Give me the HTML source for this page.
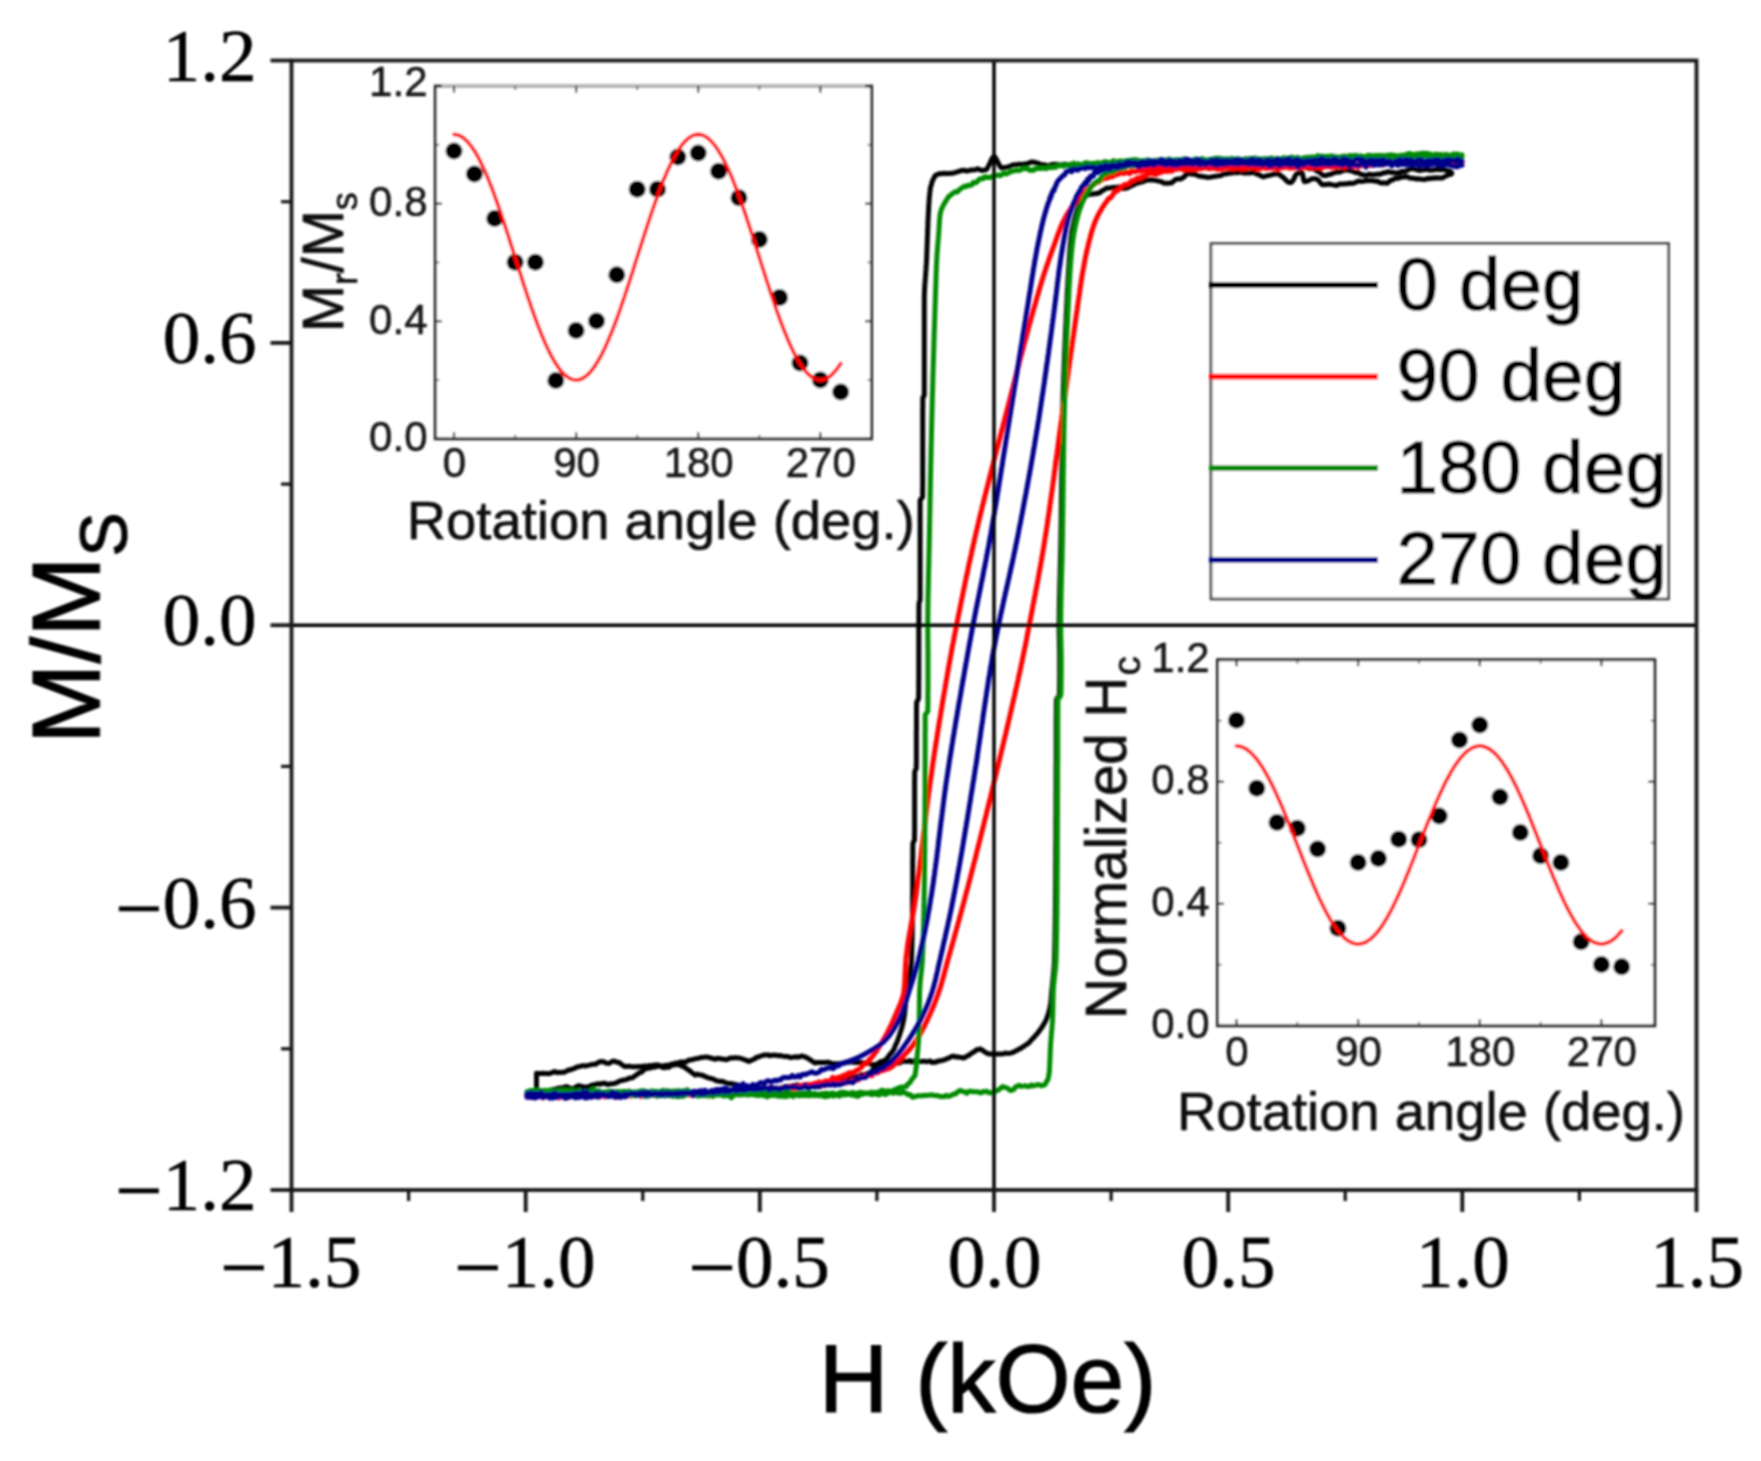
<!DOCTYPE html>
<html lang="en">
<head>
<meta charset="utf-8">
<title>M/Ms vs H (kOe) hysteresis loops</title>
<style>
html,body{margin:0;padding:0;background:#ffffff;}
body{width:1761px;height:1461px;overflow:hidden;}
svg{display:block;}
text{white-space:pre;}
</style>
</head>
<body>
<svg width="1761" height="1461" viewBox="0 0 1761 1461">
<rect x="0" y="0" width="1761" height="1461" fill="#ffffff"/>
<g id="all" filter="url(#soft)">
<g id="curves">
<polyline points="1451.7,173.5 1450.9,171.7 1449.8,171.2 1448.3,171 1446.7,170.5 1444.8,169.7 1442.8,169.4 1440.6,169.8 1438.4,169.4 1436.1,169.4 1433.8,169.9 1431.5,170.1 1429.3,170.2 1427.3,169.5 1425.3,169.6 1423.3,169.9 1421.3,169.9 1419.4,170.5 1417.4,169.9 1415.4,169.3 1413.5,168.6 1411.5,168.8 1409.5,169.1 1407.5,170.3 1405.5,171.1 1403.5,171.6 1401.5,171.4 1399.5,172.5 1397.5,172.8 1395.5,172.9 1393.5,172.5 1391.5,172.5 1389.5,172 1387.5,171.7 1385.5,172.7 1383.6,172.7 1381.6,173.6 1379.6,174.3 1377.7,174.1 1375.7,174.4 1373.7,174.7 1371.7,174.7 1369.7,174.3 1367.7,174.8 1365.7,175.5 1363.7,174.8 1361.7,174.7 1359.7,173.6 1357.8,172.3 1355.9,172.7 1354,172 1352.1,171.1 1350.3,170.6 1348.4,170.2 1346.4,169.7 1344.4,170.4 1342.4,170.8 1340.4,171.8 1338.4,172.2 1336.5,171.8 1334.6,172.7 1332.8,173.3 1330.9,174.2 1329.1,174.4 1327.2,175.2 1325.4,175.6 1323.7,175.5 1322,174.7 1320.3,172.8 1318.5,171.7 1316.8,170.9 1314.9,169.2 1313.1,168.9 1311.1,168.4 1309.2,168.5 1307.2,168 1305.2,167.2 1303.2,166.7 1301.3,166.2 1299.3,166.2 1297.3,165 1295.3,164.4 1293.3,164.9 1291.3,165.4 1289.2,166 1287.2,165.9 1285.2,166.1 1283.2,165.9 1281.2,166.2 1279.2,165.9 1277.2,165.5 1275.2,165.7 1273.2,165.3 1271.2,165.7 1269.2,165.5 1267.2,165.9 1265.2,165.6 1263.2,165.9 1261.2,164.9 1259.2,164.4 1257.2,164.7 1255.2,164.5 1253.2,164.7 1251.2,165.4 1249.2,164.6 1247.2,164.8 1245.2,165.3 1243.2,165.7 1241.2,165.8 1239.2,165.5 1237.2,165.1 1235.2,164.4 1233.2,164.1 1231.1,165 1229.1,165.7 1227.1,165.3 1225.1,165.3 1223.1,164.5 1221.1,164.8 1219.1,164.4 1217.1,164.3 1215.1,164.4 1213.1,165.1 1211.1,165.1 1209.1,165.4 1207.1,165.5 1205.1,164.4 1203.1,165 1201.1,163.9 1199.1,164.4 1197.1,163.9 1195.1,164.6 1193.1,164.7 1191.1,164.4 1189.1,165.6 1187,166 1185,165.7 1183,165.7 1181,165.8 1179,165.4 1177,165.6 1175,164.7 1173,164.8 1171,164.8 1169,165 1167,165 1165,165.8 1163,165.5 1161,165.7 1159,165 1157,164.5 1155,164.5 1153,164.7 1151,165.1 1149,165.1 1147,165 1145,164.6 1143,164.7 1141,165.3 1139,164.5 1136.9,164.3 1134.9,164.7 1132.9,165 1130.9,164.3 1128.9,164.8 1126.9,164.8 1124.9,164.5 1122.9,165.3 1120.9,165 1118.9,165 1116.9,164.6 1114.9,164.8 1112.9,164.4 1110.9,164.6 1108.9,164.3 1106.9,164.5 1104.9,165.6 1102.9,165.5 1100.9,165.8 1098.9,165.5 1096.9,165.2 1094.9,165.1 1092.9,165.6 1090.9,165.4 1088.9,165.6 1086.8,165.7 1084.8,166.1 1082.8,165.9 1080.8,165.7 1078.8,165.2 1076.8,165 1074.8,166 1072.8,166.4 1070.8,166.1 1068.8,165.5 1066.8,164.7 1064.8,164.3 1062.8,164.7 1060.8,164.7 1058.8,165.4 1056.8,164.2 1054.8,164.5 1052.8,164.3 1050.8,164.9 1048.8,165.7 1046.8,165.8 1044.8,164.9 1042.8,164.6 1040.8,164.9 1038.8,163.4 1036.8,162.8 1034.8,162.5 1032.8,162 1030.7,162.1 1028.7,163.2 1026.7,163.6 1024.7,164 1022.7,164.4 1020.7,164.3 1018.7,164.2 1016.7,164.8 1014.7,164.7 1012.7,164.9 1010.6,166.2 1008.6,166.6 1006.6,167.3 1004.7,167.4 1003,168.1 1001.5,168 1000.2,166.5 999,164.5 997.9,162.6 996.8,160.3 995.8,158.3 994.7,156.8 993.7,156.6 992.7,157.5 991.7,159.3 990.7,161.6 989.7,163.8 988.6,165.7 987.6,167.8 986.5,169.5 985.2,169.9 983.6,170.3 981.7,170.4 979.7,169.7 977.6,168.8 975.4,169.8 973.1,169.9 971,170 968.8,170.6 966.9,171 964.9,170.5 962.9,170.3 960.9,170.6 959,171.5 957,171.9 955,172.6 953,173.2 951.1,173.3 949.1,173.6 947.1,173.4 945,173.5 943,173.3 940.9,173.9 939.1,173.6 937.3,174.6 935.6,175.1 934.2,177.4 933.2,179.4 932.3,181.1 931.5,184.1 930.9,186.1 930.4,187.7 930.1,190.1 929.9,192.1 929.7,193.2 929.5,195.8 929.3,197.4 929.2,199.2 929.1,201.2 928.9,203.2 928.8,205.3 928.7,207.3 928.6,209.3 928.5,211.3 928.4,213.4 928.3,215.4 928.2,217.4 928.1,219.4 928,221.4 927.9,223.4 927.9,225.4 927.8,227.4 927.7,229.4 927.6,231.4 927.6,233.4 927.5,235.4 927.4,237.4 927.3,239.4 927.3,241.4 927.2,243.4 927.1,245.4 927.1,247.4 927,249.4 926.9,251.4 926.8,253.4 926.8,255.4 926.7,257.4 926.6,259.4 926.5,261.4 926.4,263.4 926.2,265.4 926.1,267.4 926,269.4 925.8,271.4 925.7,273.4 925.5,275.4 925.4,277.4 925.2,279.4 925.1,281.4 924.9,283.4 924.8,285.4 924.7,287.4 924.6,289.4 924.5,291.4 924.4,293.4 924.4,295.4 924.3,297.4 924.3,299.4 924.3,301.5 924.3,303.5 924.3,305.5 924.3,307.5 924.3,309.5 924.3,311.6 924.3,313.6 924.3,315.6 924.3,317.7 924.3,319.7 924.3,321.8 924.3,323.8 924.3,325.8 924.3,327.9 924.3,329.9 924.3,332 924.3,334.1 924.3,336.1 924.3,338.2 924.3,340.2 924.3,342.3 924.3,344.3 924.3,346.3 924.3,348.4 924.3,350.4 924.3,352.5 924.3,354.5 924.3,356.5 924.3,358.5 924.3,360.6 924.3,362.6 924.3,364.6 924.3,366.6 924.3,368.6 924.3,370.6 924.3,372.5 924.3,374.5 924.3,376.5 924.3,378.4 924.3,380.4 924.3,382.3 924.3,384.2 924.3,386.2 924.3,388.1 924.3,390 924.3,391.9 924.3,393.7 924.2,395.6 923,397.4 922.8,399.2 922.8,401.1 922.8,403 922.8,404.9 922.8,406.9 922.7,408.9 922.7,410.9 922.7,412.9 922.7,414.9 922.7,416.9 922.7,419 922.7,421 922.7,423.1 922.7,425.2 922.7,427.3 922.7,429.4 922.7,431.5 922.7,433.6 922.7,435.8 922.7,437.9 922.7,440 922.7,442.1 922.7,444.3 922.7,446.4 922.7,448.5 922.7,450.7 922.7,452.8 922.7,454.9 922.7,457 922.7,459.1 922.7,461.2 922.7,463.2 922.7,465.3 922.7,467.3 922.7,469.4 922.7,471.4 922.7,473.4 922.7,475.4 922.7,477.4 922.7,479.3 922.7,481.2 922.7,483.1 922.7,485 922.7,486.9 922.6,488.7 922.6,490.5 922.6,492.3 922.6,494 922.6,495.7 922.5,497.4 920.8,498.9 920.1,500.5 920.1,502.2 920.1,503.9 920.1,505.7 920.1,507.4 920.1,509.3 920.1,511.1 920.1,512.9 920.1,514.8 920.1,516.7 920.1,518.6 920.1,520.6 920.1,522.5 920.1,524.5 920.1,526.5 920.1,528.5 920.1,530.5 920.1,532.5 920.1,534.6 920.1,536.6 920.1,538.7 920.1,540.8 920.1,542.9 920.1,545 920.1,547.1 920.1,549.2 920.1,551.3 920.1,553.4 920.1,555.5 920.1,557.6 920.1,559.8 920.1,561.9 920.1,564 920.1,566.1 920.1,568.2 920.1,570.3 920.1,572.4 920.1,574.5 920.1,576.6 920.1,578.7 920.1,580.8 920.1,582.8 920.1,584.9 920.1,586.9 920.1,588.9 920.1,590.9 920.1,592.9 920.1,594.9 920.1,596.9 920.1,598.8 919.9,600.7 919.1,602.6 919,604.5 919,606.5 918.9,608.4 918.9,610.4 918.9,612.4 918.9,614.4 918.9,616.4 918.9,618.4 918.9,620.5 918.8,622.5 918.8,624.5 918.8,626.6 918.8,628.7 918.8,630.7 918.8,632.8 918.8,634.9 918.8,637 918.8,639.1 918.8,641.1 918.8,643.2 918.8,645.3 918.8,647.4 918.8,649.5 918.8,651.6 918.8,653.7 918.8,655.7 918.8,657.8 918.8,659.9 918.8,661.9 918.8,664 918.8,666 918.8,668.1 918.8,670.1 918.8,672.1 918.8,674.1 918.8,676.1 918.8,678.1 918.8,680.1 918.7,682 918.7,684 918.7,685.9 918.7,687.8 918.7,689.7 918.7,691.5 918.7,693.4 918.6,695.2 918.6,697 918.6,698.8 917.6,700.5 916.6,702.2 916.6,704 916.6,705.8 916.5,707.6 916.5,709.5 916.5,711.4 916.5,713.4 916.5,715.3 916.5,717.3 916.5,719.3 916.5,721.3 916.5,723.3 916.5,725.4 916.5,727.4 916.5,729.5 916.4,731.6 916.4,733.7 916.4,735.7 916.4,737.8 916.4,739.9 916.4,742 916.4,744.1 916.4,746.2 916.4,748.3 916.4,750.3 916.4,752.4 916.4,754.4 916.4,756.5 916.4,758.5 916.4,760.5 916.4,762.5 916.3,764.4 916.3,766.4 916.3,768.3 915.4,770.1 914.7,772 914.7,773.9 914.7,775.9 914.7,777.8 914.6,779.8 914.6,781.8 914.6,783.8 914.6,785.8 914.6,787.8 914.6,789.9 914.6,791.9 914.6,794 914.6,796 914.6,798.1 914.6,800.2 914.6,802.2 914.6,804.3 914.6,806.4 914.6,808.4 914.6,810.5 914.6,812.5 914.6,814.6 914.6,816.6 914.6,818.7 914.6,820.7 914.6,822.7 914.6,824.7 914.6,826.7 914.6,828.7 914.6,830.6 914.6,832.6 914.5,834.5 914.5,836.4 914.5,838.3 914.5,840.1 913.4,841.9 912.9,843.7 912.9,845.6 912.8,847.4 912.8,849.3 912.8,851.3 912.8,853.2 912.8,855.2 912.8,857.1 912.7,859.1 912.7,861.1 912.7,863.1 912.7,865.1 912.7,867.2 912.7,869.2 912.7,871.2 912.7,873.3 912.7,875.3 912.7,877.4 912.7,879.5 912.7,881.5 912.7,883.6 912.7,885.6 912.7,887.7 912.7,889.7 912.7,891.8 912.6,893.8 912.6,895.8 912.6,897.9 912.6,899.9 912.6,901.9 912.6,903.9 912.6,905.9 912.5,907.9 912.5,909.9 912.5,911.9 912.5,913.9 912.5,915.9 912.4,917.9 912.4,919.9 912.4,921.9 912.4,923.9 912.3,926 912.3,928 912.3,930 912.2,932 912.2,934 912.2,936 912.1,938 912.1,940 912,942 912,944 911.9,946 911.9,948 911.8,950 911.8,952 911.7,954 911.6,956 911.6,958 911.5,960 911.4,962 911.2,963.9 911,965.9 910.7,967.9 910.4,969.9 910.1,971.9 909.7,973.8 909.3,975.8 908.9,977.8 908.5,979.8 908.1,981.7 907.8,983.7 907.4,985.7 907.1,987.7 906.8,989.7 906.6,991.7 906.4,993.7 906.2,995.7 906,997.7 905.9,999.7 905.7,1001.7 905.5,1003.7 905.4,1005.7 905.2,1007.7 905,1009.7 904.8,1011.7 904.6,1013.6 904.3,1015.6 904.1,1017.6 903.7,1019.5 903.3,1021.5 902.9,1023.5 902.4,1025.4 901.9,1027.4 901.3,1029.3 900.7,1031.2 900.1,1033.2 899.5,1035.1 898.9,1036.9 898.2,1038.8 897.5,1041 896.8,1042.5 896,1044.3 895.2,1045.7 894.4,1048.4 893.4,1050.1 892.4,1051.5 891.4,1053.1 890.2,1053.8 888.8,1056.3 887.4,1057.8 885.9,1059.5 884.3,1060.7 882.6,1061.1 880.8,1061.4 878.9,1063.1 876.9,1063.9 875,1064.8 873,1064.7 871,1064.2 869.1,1063.1 867,1063.6 865,1062.9 863,1062.6 861,1062.8 859,1062.5 857,1062.3 855,1062.5 852.9,1062.1 850.9,1061.9 848.9,1062.2 846.9,1062 844.8,1063.1 842.8,1062.9 840.8,1063.7 838.8,1063.8 836.8,1063.8 834.7,1063.7 832.7,1063.5 830.7,1063.1 828.7,1062.2 826.8,1062.2 824.8,1062.5 822.8,1062.6 820.9,1062.4 818.9,1062.5 817,1062.4 815.1,1063 813.2,1061.9 811.4,1060.7 809.5,1059.3 807.7,1058.2 805.8,1057.2 803.9,1056.6 802,1056 800,1056.4 798.1,1057.3 796.1,1056.8 794.1,1057 792.1,1057.4 790.1,1057.5 788,1056.6 786,1056.5 784,1056.4 781.9,1055.9 779.9,1055.5 777.9,1055.7 775.8,1055.1 773.8,1055.3 771.8,1055.2 769.8,1055.8 767.9,1054.8 765.9,1055.1 764,1055 762.1,1055.6 760.2,1056.1 758.3,1057.2 756.4,1057.2 754.6,1058.9 752.7,1059.7 750.8,1060.5 748.9,1061.4 747,1060.7 745.1,1059.7 743.2,1059.4 741.3,1058.4 739.4,1058.1 737.4,1057.9 735.5,1057.6 733.5,1058.1 731.5,1057.9 729.6,1058.3 727.6,1059.3 725.5,1059.7 723.5,1059.1 721.5,1059.1 719.5,1058.4 717.5,1058.3 715.6,1059.2 713.6,1058.7 711.6,1058.3 709.7,1057.6 707.7,1057.2 705.8,1056.9 703.8,1057.3 701.9,1057.4 699.9,1057.8 698,1058.5 696.1,1058.5 694.2,1059.2 692.3,1059.5 690.3,1060.1 688.4,1060.3 686.5,1061.8 684.6,1061.9 682.6,1061.9 680.7,1062 678.7,1062.6 676.8,1063.1 674.8,1063.3 672.8,1064 670.8,1064.3 668.8,1065.2 666.8,1065.3 664.8,1065.5 662.8,1065.9 660.8,1066.3 658.8,1065.1 656.8,1065.1 654.8,1064.9 652.8,1065.7 650.8,1065.4 648.7,1065.8 646.7,1066.2 644.7,1066.1 642.7,1066.3 640.7,1066.7 638.7,1066.4 636.7,1066.7 634.7,1066.8 632.7,1066.8 630.7,1066.5 628.7,1066.1 626.8,1066.5 624.8,1066.5 622.9,1065.4 621,1064 619.1,1062.5 617.2,1062.3 615.3,1061.4 613.4,1061 611.5,1061.8 609.5,1063.2 607.6,1063.4 605.6,1062.9 603.6,1061.7 601.6,1061.6 599.7,1061.8 597.7,1062.7 595.7,1064.3 593.7,1064.3 591.7,1064.4 589.7,1065.1 587.7,1065.4 585.7,1066 583.7,1065.8 581.7,1065.7 579.8,1066.5 577.8,1066.9 575.9,1067.5 573.9,1068.6 572,1069.1 570.1,1069.9 568.2,1070 566.3,1071.3 564.3,1072.2 562.4,1072.3 560.5,1072.6 558.5,1072.3 556.5,1072.6 554.6,1071.5 552.6,1072.4 550.6,1073.1 548.6,1073.8 546.6,1073.4 544.6,1073.5 542.6,1073.3 540.6,1073.5 538.5,1073.6 536.5,1073.3 536.5,1090.8 538.5,1091.1 540.5,1091.4 542.5,1091.2 544.4,1091.3 546.4,1091.1 548.4,1090.8 550.4,1090.5 552.4,1089.6 554.4,1089.2 556.4,1089.1 558.4,1088.1 560.4,1088.2 562.3,1087.7 564.3,1087.4 566.3,1086.6 568.3,1087.4 570.3,1088.2 572.3,1089.1 574.3,1088.1 576.3,1086.8 578.2,1085.7 580.2,1085.9 582.2,1086.8 584.2,1087.1 586.2,1087 588.2,1086.9 590.2,1085.9 592.3,1085 594.3,1084.8 596.3,1084.2 598.3,1083.8 600.3,1084.2 602.2,1083.4 604.2,1083.1 606.2,1084 608.2,1084.5 610.2,1083.9 612.1,1083.7 614.1,1083.6 616,1082.9 618,1081.9 619.9,1080.9 621.9,1080.5 623.8,1080 625.8,1079.6 627.7,1079 629.5,1078 631.4,1078 633.2,1077.3 634.9,1075.9 636.6,1074.9 638.3,1073.5 639.9,1072.4 641.5,1072.2 643.2,1070.5 644.9,1069.1 646.8,1068.3 648.6,1068.2 650.5,1068 652.5,1067.2 654.5,1067.2 656.5,1066.6 658.5,1065.8 660.6,1066.5 662.7,1067.5 664.7,1067.7 666.8,1067 668.9,1067.2 670.9,1065.6 672.9,1064.9 674.9,1064.9 676.9,1064.6 678.8,1064.5 680.7,1065.7 682.6,1066.3 684.4,1067.1 686.2,1068.4 688,1069.7 689.8,1070.7 691.6,1072.5 693.5,1073.8 695.3,1075.1 697.2,1074.1 699.1,1074.8 701,1074.9 702.9,1075.5 704.9,1076.4 706.8,1077.2 708.7,1078 710.7,1078.4 712.6,1078.9 714.5,1079.7 716.5,1080.8 718.4,1081.1 720.3,1081.5 722.3,1081.3 724.2,1082.1 726.1,1083 728.1,1083.4 730,1083.4 732,1083.8 733.9,1084 735.9,1085.2 737.8,1084.7 739.8,1085.6 741.8,1085.9 743.7,1086.8 745.7,1087.1 747.7,1087.2 749.7,1087.6 751.6,1088 753.6,1088.2 755.6,1088 757.6,1088 759.6,1088.8 761.6,1088.3 763.5,1089.4 765.5,1088.8 767.5,1088.4 769.5,1087.9 771.5,1087.6 773.5,1088.3 775.5,1088 777.5,1088.9 779.5,1088.1 781.5,1088.2 783.5,1087.7 785.5,1086.4 787.5,1086.5 789.5,1086.3 791.5,1086.3 793.5,1085.5 795.5,1085.3 797.5,1084.8 799.5,1085.5 801.5,1085.6 803.5,1085.1 805.5,1085 807.5,1084.5 809.5,1085.1 811.5,1085.5 813.5,1084.7 815.5,1084.5 817.4,1084 819.4,1083.3 821.4,1084 823.4,1083.2 825.4,1083.1 827.4,1082.6 829.4,1082.2 831.4,1081.7 833.4,1081.6 835.4,1081.1 837.3,1080.5 839.3,1080.2 841.3,1079.1 843.2,1078.6 845.2,1078.8 847.1,1079.1 849.1,1078.5 851.1,1078 853,1077.3 855,1077.1 856.9,1076.5 858.8,1076.3 860.7,1074.7 862.6,1074.7 864.5,1074.9 866.4,1074.1 868.2,1073.2 870,1072.9 871.8,1070.9 873.6,1068.8 875.3,1066.9 877.1,1066.2 878.9,1066 880.7,1065.4 882.6,1065 884.4,1064.2 886.3,1063 888.2,1061.9 890.1,1062.2 892.1,1062.4 894,1061.9 895.9,1062.7 897.9,1063.2 899.9,1062.8 901.9,1061.5 903.9,1061.3 905.9,1061.2 907.9,1061.5 909.9,1060.5 911.9,1062 914,1060.8 916,1061.4 918.1,1061.4 920.1,1061.5 922.1,1061.4 924.2,1061.1 926.2,1061.7 928.2,1061.4 930.2,1060.9 932.2,1062.6 934.2,1062.1 936.1,1062.3 938.1,1060.9 940,1061 941.9,1060.3 943.8,1060.1 945.7,1059.3 947.5,1058.4 949.5,1057.8 951.4,1056.4 953.5,1056.1 955.5,1056.9 957.5,1056.8 959.5,1057.2 961.5,1057.4 963.5,1058 965.3,1057.3 967.2,1055.9 969,1055.3 970.9,1053.7 972.8,1052.5 974.7,1051.6 976.5,1049.8 978.4,1049.5 980.3,1049 982.1,1049.9 983.9,1051.3 985.7,1052.5 987.6,1053.5 989.5,1054.1 991.4,1054.1 993.4,1054.1 995.4,1054.1 997.4,1054.1 999.5,1054.1 1001.5,1054.1 1003.5,1053.8 1005.4,1053 1007.4,1053.4 1009.4,1053.2 1011.3,1052.9 1013.2,1052.3 1015.1,1051.2 1016.9,1050.5 1018.7,1049.2 1020.4,1048.7 1022.1,1047.3 1023.8,1046.5 1025.5,1045 1027.1,1044.1 1028.6,1043.1 1030.1,1041.5 1031.6,1039.7 1033,1038.3 1034.4,1036.8 1035.7,1035.3 1037.1,1033.8 1038.3,1032.2 1039.5,1030.6 1040.7,1029 1041.8,1027.3 1042.9,1025.6 1044,1023.9 1045,1022.1 1045.9,1020.4 1046.7,1018.5 1047.4,1016.7 1048,1014.8 1048.6,1012.9 1049.1,1011 1049.6,1009 1050,1007 1050.4,1005 1050.7,1003 1050.9,1001.1 1051.1,999.1 1051.3,997.1 1051.5,995.1 1051.6,993.1 1051.8,991.1 1052,989.1 1052.2,987.1 1052.4,985.1 1052.6,983.1 1052.8,981.1 1053,979.1 1053.2,977.1 1053.4,975.1 1053.6,973.1 1053.8,971.1 1054,969.1 1054.1,967.1 1054.3,965.1 1054.4,963.1 1054.5,961.1 1054.5,959.1 1054.6,957.1 1054.6,955.1 1054.7,953.1 1054.7,951.1 1054.8,949.1 1054.8,947.1 1054.9,945.1 1054.9,943.1 1055,941.1 1055,939.1 1055,937.1 1055.1,935.1 1055.1,933.1 1055.1,931.1 1055.2,929.1 1055.2,927.1 1055.2,925.1 1055.3,923.1 1055.3,921.1 1055.3,919.1 1055.3,917.1 1055.4,915.1 1055.4,913.1 1055.4,911 1055.4,909 1055.4,907 1055.5,905 1055.5,903 1055.5,901 1055.5,899 1055.5,897 1055.5,895 1055.6,893 1055.6,891 1055.6,889 1055.6,887 1055.6,885 1055.6,883 1055.6,881 1055.7,879 1055.7,877 1055.7,875 1055.7,873 1055.7,871 1055.7,869 1055.7,867 1055.7,865 1055.7,863 1055.8,861 1055.8,859 1055.8,856.9 1055.8,854.9 1055.8,852.9 1055.8,850.9 1055.8,848.9 1055.8,846.9 1055.8,844.9 1055.8,842.9 1055.9,840.9 1055.9,838.9 1055.9,836.9 1055.9,834.9 1055.9,832.9 1055.9,830.9 1055.9,828.9 1055.9,826.9 1055.9,824.9 1055.9,822.9 1055.9,820.9 1055.9,818.9 1056,816.9 1056,814.9 1056,812.9 1056,810.9 1056,808.9 1056,806.9 1056,804.8 1056,802.8 1056,800.8 1056,798.8 1056,796.8 1056,794.8 1056,792.8 1056.1,790.8 1056.1,788.8 1056.1,786.8 1056.1,784.8 1056.1,782.8 1056.1,780.8 1056.1,778.8 1056.1,776.8 1056.1,774.8 1056.1,772.7 1056.1,770.7 1056.1,768.7 1056.1,766.6 1056.1,764.5 1056.2,762.5 1056.2,760.4 1056.2,758.4 1056.2,756.3 1056.2,754.2 1056.2,752.2 1056.2,750.1 1056.2,748 1056.2,746 1056.2,743.9 1056.2,741.8 1056.2,739.8 1056.2,737.7 1056.2,735.7 1056.2,733.6 1056.2,731.6 1056.2,729.6 1056.2,727.6 1056.2,725.6 1056.2,723.6 1056.2,721.6 1056.2,719.6 1056.3,717.6 1056.3,715.7 1056.3,713.7 1056.3,711.8 1056.3,709.9 1056.3,708 1056.3,706.1 1056.4,704.3 1056.4,702.4 1056.4,700.6 1056.8,698.8 1058.2,697.1 1059.3,695.4 1059.4,693.6 1059.5,691.7 1059.5,689.8 1059.5,687.9 1059.6,685.9 1059.6,683.9 1059.6,681.9 1059.6,679.9 1059.6,677.8 1059.7,675.8 1059.7,673.7 1059.7,671.7 1059.7,669.6 1059.7,667.5 1059.7,665.5 1059.7,663.4 1059.7,661.4 1059.7,659.4 1059.7,657.4 1059.7,655.4 1059.6,653.4 1059.6,651.4 1059.6,649.4 1059.5,647.4 1059.5,645.4 1059.4,643.4 1059.4,641.4 1059.4,639.4 1059.3,637.4 1059.3,635.4 1059.2,633.4 1059.2,631.4 1059.2,629.4 1059.2,627.3 1059.2,625.3 1059.2,623.3 1059.2,621.3 1059.2,619.3 1059.2,617.3 1059.3,615.3 1059.3,613.3 1059.3,611.3 1059.3,609.3 1059.4,607.3 1059.4,605.3 1059.4,603.3 1059.5,601.3 1059.5,599.3 1059.5,597.3 1059.6,595.3 1059.6,593.3 1059.7,591.3 1059.7,589.3 1059.8,587.3 1059.8,585.3 1059.9,583.3 1059.9,581.3 1060,579.3 1060,577.3 1060.1,575.3 1060.1,573.3 1060.2,571.3 1060.2,569.3 1060.3,567.2 1060.3,565.2 1060.4,563.2 1060.4,561.2 1060.5,559.2 1060.5,557.2 1060.6,555.2 1060.6,553.2 1060.7,551.2 1060.7,549.2 1060.8,547.2 1060.8,545.2 1060.8,543.2 1060.9,541.2 1060.9,539.2 1060.9,537.2 1061,535.2 1061,533.2 1061,531.2 1061.1,529.2 1061.1,527.2 1061.1,525.2 1061.2,523.2 1061.2,521.2 1061.2,519.2 1061.2,517.2 1061.3,515.2 1061.3,513.2 1061.3,511.1 1061.3,509.1 1061.4,507.1 1061.4,505.1 1061.4,503.1 1061.4,501.1 1061.5,499.1 1061.5,497.1 1061.5,495.1 1061.5,493.1 1061.6,491.1 1061.6,489.1 1061.6,487.1 1061.6,485.1 1061.7,483.1 1061.7,481.1 1061.7,479.1 1061.7,477.1 1061.8,475.1 1061.8,473.1 1061.8,471.1 1061.8,469.1 1061.9,467.1 1061.9,465.1 1061.9,463.1 1061.9,461.1 1062,459.1 1062,457 1062,455 1062,453 1062.1,451 1062.1,449 1062.1,447 1062.2,445 1062.2,443 1062.2,441 1062.3,439 1062.3,437 1062.3,435 1062.4,433 1062.4,431 1062.4,429 1062.5,427 1062.5,425 1062.5,423 1062.6,421 1062.6,419 1062.7,417 1062.7,415 1062.8,413 1062.8,411 1062.8,409 1062.9,407 1062.9,405 1063,403 1063.1,401 1063.1,399 1063.2,397 1063.2,395 1063.3,392.9 1063.3,390.9 1063.4,388.9 1063.5,386.9 1063.5,384.9 1063.6,382.9 1063.7,380.9 1063.7,378.9 1063.8,376.9 1063.9,374.9 1063.9,372.9 1064,370.9 1064.1,368.9 1064.2,366.9 1064.2,364.9 1064.3,362.9 1064.4,360.9 1064.5,358.9 1064.5,356.9 1064.6,354.9 1064.7,352.9 1064.8,350.9 1064.9,348.9 1064.9,346.9 1065,344.9 1065.1,342.9 1065.2,340.9 1065.3,338.9 1065.4,336.9 1065.4,334.9 1065.5,332.9 1065.6,330.9 1065.7,328.9 1065.8,326.9 1065.9,324.9 1066,322.9 1066.1,320.9 1066.1,318.9 1066.2,316.9 1066.3,314.9 1066.4,312.9 1066.5,310.9 1066.6,308.8 1066.7,306.8 1066.8,304.8 1066.9,302.8 1067,300.8 1067.1,298.8 1067.1,296.8 1067.2,294.8 1067.3,292.8 1067.4,290.8 1067.5,288.8 1067.7,286.8 1067.8,284.8 1067.9,282.8 1068,280.8 1068.1,278.8 1068.2,276.8 1068.3,274.8 1068.5,272.8 1068.6,270.8 1068.7,268.8 1068.8,266.8 1069,264.8 1069.1,262.8 1069.2,260.8 1069.3,258.8 1069.5,256.8 1069.6,254.8 1069.7,252.8 1069.9,250.8 1070,248.8 1070.2,246.8 1070.4,244.8 1070.6,242.8 1070.8,240.8 1071,238.9 1071.2,236.9 1071.5,234.9 1071.8,232.9 1072.1,230.9 1072.5,229 1072.9,227 1073.3,225 1073.8,223.1 1074.2,221.1 1074.7,219.2 1075.2,217.2 1075.8,215.3 1076.3,213.3 1076.9,211.4 1077.6,209.4 1078.3,207.6 1079.1,205.7 1080,204 1081,202.3 1082.2,200.6 1083.5,198.7 1084.9,197.1 1086.4,195.5 1088,194.9 1089.7,193.9 1091.6,194.2 1093.6,193.7 1095.6,193.8 1097.6,193.3 1099.5,192.9 1101.4,191.1 1103.3,190.3 1105.2,189 1107.1,188 1109,188.1 1110.9,188 1112.9,187.2 1114.9,187.7 1116.9,187.3 1118.9,187.1 1120.9,187.3 1122.9,188.6 1124.9,188.2 1126.9,188 1128.8,187.3 1130.7,185.9 1132.6,185.4 1134.5,184.1 1136.4,183.4 1138.3,182.8 1140.2,182.3 1142.1,182.1 1144.1,181.1 1146,180.4 1148,179.9 1150,180 1151.9,179.8 1153.9,180.1 1155.9,180.5 1157.9,180.8 1159.9,181.4 1161.8,181.8 1163.8,183.1 1165.8,183.3 1167.7,183.2 1169.7,183 1171.6,183.1 1173.4,181.3 1175.3,179.7 1177.1,179 1179,178.9 1180.8,179.1 1182.6,177.7 1184.4,176.7 1186.2,174.3 1188.1,173.9 1189.9,173.2 1191.8,174.2 1193.7,173.9 1195.6,174.5 1197.5,175.5 1199.5,176.3 1201.4,176.1 1203.4,176.8 1205.4,176.8 1207.3,177.4 1209.3,177.3 1211.2,177 1213.2,176.6 1215.2,176.4 1217.1,175.9 1219.1,175.8 1221.1,175.5 1223.1,174 1225,174 1227,173.5 1229,173.4 1231,172.8 1233,172.9 1235,172.4 1237.1,172.7 1239.1,172.3 1241.1,172.3 1243.2,172.9 1245.2,173.1 1247.2,172.9 1249.2,173.1 1251.1,172.7 1253.1,172.4 1255,173.1 1256.8,174 1258.6,174.5 1260.4,175.5 1262.3,176.7 1264.1,176.8 1266.1,176 1268.1,175.5 1270.1,175.2 1272.1,174.6 1274.1,173.8 1276,174 1277.9,173.7 1279.7,174.5 1281.6,176.4 1283.4,177.4 1285.1,179.3 1286.8,181 1288.4,182.2 1289.9,182.5 1291.3,182.5 1292.5,181 1293.6,179.6 1294.7,177 1295.9,174.5 1297.5,173.4 1299.5,172.4 1301.2,172 1302.1,173.1 1302.7,174.9 1303.1,176.5 1303.5,179 1303.9,180.5 1304.6,181.7 1305.9,181.2 1307.7,181.2 1309.8,179.9 1312.1,178.7 1314.2,178.7 1316,178.8 1317.5,179.3 1319,181 1320.5,182.9 1322,184.5 1323.6,184.8 1325.4,184.3 1327.3,184.5 1329.3,184 1331.4,184.6 1333.5,184.9 1335.6,185.4 1337.6,185.2 1339.6,183.9 1341.6,183.9 1343.6,184.1 1345.7,183.7 1347.7,183.8 1349.7,183.1 1351.7,183.5 1353.7,183.1 1355.7,182.4 1357.6,181.3 1359.6,181.1 1361.6,181.4 1363.6,181.3 1365.6,180.5 1367.6,180.8 1369.6,180.4 1371.5,180.7 1373.5,180.7 1375.5,181.2 1377.4,181.1 1379.4,182.4 1381.4,183.1 1383.3,182.8 1385.2,182.9 1387.1,183.2 1388.8,181.9 1390.6,180.2 1392.4,180 1394.2,178.9 1396.1,178.1 1398,178.4 1399.9,177.7 1401.9,177.1 1403.8,177 1405.8,176.4 1407.9,177.1 1409.9,178 1411.9,178.2 1413.9,178.3 1415.9,178.9 1417.9,178.7 1419.9,179 1421.9,179.2 1424,179.5 1425.9,179.3 1427.9,178.3 1429.9,178.7 1431.9,178 1433.9,178.2 1435.9,177.7 1437.9,177.9 1440.2,178 1442.5,178 1444.8,176.5 1446.8,175.7 1448.7,174.5 1450.1,174.6 1451,174.2 1451.7,173.1" fill="none" stroke="#000000" stroke-width="5.0" stroke-linejoin="round" stroke-linecap="round" />
<polyline points="1462,160.9 1460,161.7 1458,161.4 1456,161.4 1454,161.2 1452,161.5 1450,162.1 1448,160.4 1446,160.8 1444,160.2 1442,162.4 1439.9,162.2 1437.9,161.8 1435.9,160.5 1433.9,161.5 1431.9,161.3 1429.9,161.6 1427.9,161.4 1425.9,162 1423.9,161.4 1421.9,162.3 1419.9,162 1417.9,161.7 1415.9,161.9 1413.9,161.7 1411.9,162.6 1409.9,162 1407.9,162.4 1405.9,162 1403.9,161.3 1401.9,163.1 1399.9,161.8 1397.9,163.1 1395.9,163 1393.9,161.6 1391.9,162.2 1389.9,162.7 1387.9,162.6 1385.9,162.5 1383.9,164 1381.9,163.4 1379.9,164 1377.9,163.6 1375.9,164.3 1373.9,163.7 1371.9,164.3 1369.9,164.9 1367.9,164.6 1365.9,164.4 1363.9,164.1 1361.9,165 1359.9,165.2 1357.9,164.9 1355.9,164.6 1353.9,165.6 1351.9,167 1349.9,165.1 1347.9,165.7 1345.9,165.8 1343.9,163.8 1341.9,165.7 1339.9,165.2 1337.9,166.7 1335.9,165.6 1333.9,165.3 1331.9,165.8 1329.9,166.1 1327.9,165.6 1325.8,166 1323.8,165.2 1321.8,166 1319.8,166.7 1317.8,167.6 1315.8,166.8 1313.8,166.5 1311.8,167.2 1309.8,167.1 1307.8,167.6 1305.8,167.2 1303.8,166.4 1301.8,166.7 1299.8,166.6 1297.8,166.7 1295.8,166.7 1293.8,166 1291.8,165.1 1289.8,166.1 1287.8,165.2 1285.8,166.7 1283.8,166.6 1281.8,165.5 1279.8,167.1 1277.8,167.3 1275.8,166.7 1273.7,167.8 1271.7,168 1269.7,165.8 1267.7,167.4 1265.7,167 1263.7,167 1261.7,167.4 1259.7,166.2 1257.7,166.3 1255.7,166.1 1253.7,166.2 1251.7,166.7 1249.7,165.7 1247.7,166 1245.7,167.2 1243.7,166.7 1241.7,167 1239.7,165.4 1237.7,166.2 1235.7,166.4 1233.7,166.8 1231.7,166.4 1229.7,167.5 1227.7,166.8 1225.6,166.8 1223.6,166.8 1221.6,167.3 1219.6,166.5 1217.6,167.6 1215.6,167.2 1213.6,167 1211.6,166.9 1209.6,167.3 1207.6,167.6 1205.6,167.6 1203.6,167.2 1201.6,167.6 1199.6,167.1 1197.6,167.9 1195.6,167 1193.6,165.7 1191.6,168.1 1189.6,167.3 1187.6,166.5 1185.6,167.2 1183.6,166.8 1181.6,169 1179.6,167.9 1177.6,166.6 1175.6,168.2 1173.6,167.6 1171.5,169.4 1169.5,167.4 1167.5,166.7 1165.5,168.4 1163.5,168.3 1161.5,168.4 1159.5,167.3 1157.5,169.2 1155.6,170.2 1153.6,167.9 1151.6,170.2 1149.6,169.1 1147.6,171.4 1145.6,170.2 1143.6,170 1141.6,171.2 1139.6,171 1137.6,170.6 1135.6,171.8 1133.7,171.3 1131.7,170.7 1129.7,173.7 1127.7,172.4 1125.8,172.6 1123.8,173.6 1121.8,172.7 1119.9,173.3 1117.9,174.3 1115.9,174.8 1113.9,175.7 1112,176.9 1110.1,176.4 1108.2,177.6 1106.3,178.3 1104.4,177.8 1102.6,179.5 1100.8,179.5 1099.1,181.9 1097.3,182.5 1095.6,183.3 1093.9,183.6 1092.3,185.8 1090.7,186.3 1089.2,188.6 1087.6,189.3 1086.1,190.1 1084.7,192.7 1083.2,194 1081.8,194.5 1080.4,197.2 1079.1,197.7 1077.7,199.2 1076.5,201 1075.2,202.5 1074,204.1 1072.8,205.7 1071.6,207.3 1070.5,209 1069.4,210.7 1068.3,212.4 1067.2,214.1 1066.2,215.8 1065.2,217.6 1064.3,219.4 1063.4,221.1 1062.5,222.9 1061.7,224.7 1060.9,226.6 1060.2,228.4 1059.5,230.3 1058.8,232.2 1058.1,234 1057.4,235.9 1056.7,237.8 1056,239.7 1055.4,241.6 1054.7,243.5 1054,245.4 1053.3,247.3 1052.6,249.2 1051.9,251.1 1051.3,253 1050.6,254.8 1049.9,256.7 1049.2,258.6 1048.6,260.5 1047.9,262.4 1047.3,264.3 1046.6,266.2 1046,268.1 1045.4,270 1044.8,271.9 1044.1,273.8 1043.5,275.7 1042.9,277.6 1042.3,279.6 1041.7,281.5 1041.2,283.4 1040.6,285.3 1040,287.2 1039.4,289.2 1038.9,291.1 1038.3,293 1037.8,294.9 1037.2,296.8 1036.7,298.8 1036.1,300.7 1035.6,302.6 1035,304.6 1034.5,306.5 1033.9,308.4 1033.4,310.3 1032.8,312.3 1032.3,314.2 1031.8,316.1 1031.2,318.1 1030.7,320 1030.2,321.9 1029.6,323.9 1029.1,325.8 1028.6,327.7 1028.1,329.7 1027.5,331.6 1027,333.5 1026.5,335.5 1026,337.4 1025.5,339.3 1024.9,341.3 1024.4,343.2 1023.9,345.1 1023.4,347.1 1022.9,349 1022.4,351 1021.9,352.9 1021.3,354.8 1020.8,356.8 1020.3,358.7 1019.8,360.6 1019.3,362.6 1018.8,364.5 1018.3,366.5 1017.8,368.4 1017.3,370.3 1016.8,372.3 1016.3,374.2 1015.8,376.2 1015.3,378.1 1014.8,380 1014.3,382 1013.8,383.9 1013.3,385.9 1012.8,387.8 1012.3,389.7 1011.8,391.7 1011.3,393.6 1010.8,395.6 1010.3,397.5 1009.8,399.5 1009.3,401.4 1008.8,403.3 1008.3,405.3 1007.8,407.2 1007.3,409.2 1006.8,411.1 1006.3,413 1005.8,415 1005.3,416.9 1004.8,418.9 1004.3,420.8 1003.8,422.7 1003.3,424.7 1002.8,426.6 1002.3,428.6 1001.8,430.5 1001.3,432.4 1000.8,434.4 1000.3,436.3 999.8,438.3 999.3,440.2 998.8,442.1 998.3,444.1 997.8,446 997.3,448 996.8,449.9 996.2,451.8 995.7,453.8 995.2,455.7 994.7,457.7 994.2,459.6 993.7,461.5 993.2,463.5 992.7,465.4 992.2,467.4 991.7,469.3 991.2,471.3 990.7,473.2 990.2,475.1 989.7,477.1 989.2,479 988.7,481 988.3,482.9 987.8,484.8 987.3,486.8 986.8,488.7 986.3,490.7 985.8,492.6 985.3,494.6 984.8,496.5 984.3,498.4 983.9,500.4 983.4,502.3 982.9,504.3 982.4,506.2 981.9,508.2 981.5,510.1 981,512.1 980.5,514 980,516 979.6,517.9 979.1,519.9 978.6,521.8 978.2,523.8 977.7,525.7 977.3,527.7 976.8,529.6 976.3,531.6 975.9,533.5 975.4,535.5 975,537.4 974.5,539.4 974.1,541.3 973.7,543.3 973.2,545.2 972.8,547.2 972.3,549.1 971.9,551.1 971.5,553 971.1,555 970.6,557 970.2,558.9 969.8,560.9 969.3,562.8 968.9,564.8 968.5,566.8 968.1,568.7 967.7,570.7 967.3,572.6 966.8,574.6 966.4,576.6 966,578.5 965.6,580.5 965.2,582.4 964.8,584.4 964.4,586.4 964,588.3 963.6,590.3 963.2,592.3 962.8,594.2 962.4,596.2 962,598.1 961.6,600.1 961.2,602.1 960.8,604 960.4,606 960,608 959.6,609.9 959.2,611.9 958.8,613.9 958.4,615.8 958,617.8 957.6,619.8 957.2,621.7 956.8,623.7 956.4,625.7 956.1,627.6 955.7,629.6 955.3,631.6 954.9,633.5 954.5,635.5 954.1,637.5 953.7,639.4 953.4,641.4 953,643.4 952.6,645.3 952.2,647.3 951.9,649.3 951.5,651.2 951.1,653.2 950.8,655.2 950.4,657.1 950.1,659.1 949.7,661.1 949.4,663.1 949,665 948.7,667 948.3,669 948,671 947.6,672.9 947.3,674.9 946.9,676.9 946.6,678.9 946.2,680.8 945.9,682.8 945.6,684.8 945.2,686.8 944.9,688.7 944.6,690.7 944.2,692.7 943.9,694.7 943.5,696.6 943.2,698.6 942.9,700.6 942.5,702.6 942.2,704.5 941.9,706.5 941.6,708.5 941.2,710.5 940.9,712.4 940.6,714.4 940.3,716.4 939.9,718.4 939.6,720.4 939.3,722.3 939,724.3 938.6,726.3 938.3,728.3 938,730.3 937.7,732.2 937.4,734.2 937.1,736.2 936.8,738.2 936.5,740.2 936.1,742.1 935.8,744.1 935.5,746.1 935.2,748.1 934.9,750.1 934.6,752 934.3,754 934,756 933.7,758 933.4,760 933.1,761.9 932.8,763.9 932.5,765.9 932.2,767.9 932,769.9 931.7,771.9 931.4,773.8 931.1,775.8 930.8,777.8 930.5,779.8 930.2,781.8 930,783.8 929.7,785.7 929.4,787.7 929.2,789.7 928.9,791.7 928.6,793.7 928.4,795.7 928.1,797.7 927.8,799.6 927.6,801.6 927.3,803.6 927.1,805.6 926.8,807.6 926.6,809.6 926.3,811.6 926.1,813.6 925.8,815.5 925.6,817.5 925.4,819.5 925.1,821.5 924.9,823.5 924.6,825.5 924.4,827.5 924.2,829.5 923.9,831.5 923.7,833.5 923.4,835.4 923.2,837.4 923,839.4 922.7,841.4 922.5,843.4 922.3,845.4 922,847.4 921.8,849.4 921.5,851.4 921.3,853.4 921.1,855.3 920.8,857.3 920.6,859.3 920.3,861.3 920.1,863.3 919.9,865.3 919.6,867.3 919.4,869.3 919.1,871.3 918.9,873.3 918.6,875.2 918.4,877.2 918.1,879.2 917.8,881.2 917.6,883.2 917.3,885.2 917.1,887.2 916.8,889.1 916.5,891.1 916.3,893.1 916,895.1 915.7,897.1 915.4,899.1 915.1,901.1 914.9,903 914.5,905 914.2,907 913.9,909 913.6,911 913.2,912.9 912.9,914.9 912.5,916.9 912.2,918.9 911.8,920.8 911.5,922.8 911.1,924.8 910.7,926.8 910.4,928.7 910,930.7 909.7,932.7 909.3,934.7 909,936.6 908.7,938.6 908.3,940.6 908,942.6 907.7,944.6 907.4,946.5 907.2,948.5 906.9,950.5 906.7,952.5 906.4,954.5 906.2,956.5 906,958.5 905.9,960.4 905.7,962.4 905.6,964.5 905.5,966.5 905.4,968.5 905.3,970.5 905.2,972.5 905.1,974.5 905,976.6 904.9,978.6 904.8,980.6 904.7,982.6 904.6,984.6 904.4,986.5 904.2,988.5 904.1,990.4 903.8,992.4 903.4,994.3 902.9,996.2 902.4,998.1 901.7,1000.1 901,1002 900.3,1003.9 899.5,1005.7 898.7,1007.6 897.9,1009.5 897.1,1011.4 896.3,1013.2 895.5,1015.1 894.7,1016.9 893.9,1018.7 893.1,1020.6 892.3,1022.4 891.5,1024.2 890.6,1026.1 889.7,1027.9 888.8,1029.7 887.9,1031.5 887,1033.3 886.1,1035 885.1,1036.8 884.1,1038.5 883.1,1040.3 882.1,1042 881.1,1043.7 880,1045.4 878.9,1047.1 877.8,1048.9 876.7,1050.6 875.6,1052.3 874.4,1053.9 873.2,1055.5 871.9,1057.1 870.7,1058.6 869.3,1059.3 868,1062.2 866.6,1062.3 865.1,1063.4 863.6,1065 861.9,1066.6 860.3,1068.3 858.6,1069.4 856.8,1070 855.1,1071.7 853.3,1072 851.6,1073.4 849.7,1072.7 847.9,1073.3 846,1075.7 844.1,1074.9 842.2,1076.3 840.3,1077 838.4,1077.3 836.5,1077.9 834.5,1079.7 832.6,1077.5 830.7,1080.4 828.7,1081.9 826.8,1080.8 824.8,1081.3 822.9,1082.2 820.9,1083.5 819,1081.8 817,1083.1 815,1083.3 813,1084.2 811.1,1084.3 809.1,1085 807.1,1084.6 805.1,1085.3 803.1,1085.1 801.2,1085.4 799.2,1086 797.2,1086.3 795.2,1085.8 793.3,1088 791.3,1087 789.3,1086.4 787.3,1088.4 785.3,1087.3 783.3,1088.4 781.3,1088.3 779.3,1088.6 777.3,1088.8 775.3,1088.5 773.3,1089.1 771.3,1090.7 769.3,1087.9 767.3,1089.7 765.3,1090.1 763.3,1089.2 761.3,1089.2 759.3,1091.8 757.3,1090.2 755.3,1092 753.3,1091.1 751.3,1091 749.3,1091.4 747.3,1091.6 745.3,1092.2 743.3,1091.8 741.3,1091.8 739.3,1091.9 737.3,1092.9 735.3,1092.7 733.3,1091.5 731.3,1091.9 729.3,1092.8 727.3,1092.2 725.3,1092.5 723.3,1092.3 721.3,1092.9 719.3,1093.5 717.3,1094 715.3,1093.4 713.3,1095 711.3,1093.6 709.3,1095.9 707.3,1094.5 705.3,1094.2 703.3,1093.6 701.3,1092 699.3,1093.9 697.3,1094.2 695.3,1095.4 693.3,1093.2 691.3,1095.5 689.3,1094.1 687.3,1094.8 685.3,1092.5 683.3,1094.5 681.3,1094.2 679.3,1094.9 677.3,1094.5 675.3,1093.7 673.3,1095.2 671.3,1095.1 669.3,1095 667.3,1095.4 665.3,1095.5 663.3,1094.7 661.3,1093.8 659.3,1093.8 657.3,1095.8 655.3,1095.4 653.3,1095 651.3,1094.6 649.3,1095 647.3,1095 645.3,1094.8 643.3,1094.6 641.3,1096.6 639.3,1095.3 637.3,1094.7 635.2,1094.3 633.2,1094.7 631.2,1095.8 629.2,1095.8 627.2,1095.2 625.2,1095.4 623.2,1095.1 621.2,1094.6 619.2,1096.3 617.2,1095.7 615.2,1097.2 613.2,1095 611.2,1095.4 609.2,1096.1 607.2,1095.4 605.2,1094.6 603.2,1094.9 601.2,1095.7 599.2,1095.9 597.2,1095.6 595.2,1096.4 593.2,1096.4 591.2,1095.9 589.2,1095.7 587.2,1095.6 585.2,1096.1 583.2,1096.4 581.1,1095.8 579.1,1096.1 577.1,1095.6 575.1,1094.8 573.1,1095.1 571.1,1096.4 569.1,1096.2 567.1,1097 565.1,1095.9 563.1,1096.5 561.1,1096.8 559.1,1096.6 557.1,1095.5 555.1,1095.8 553.1,1096 551.1,1095.3 549.1,1096.3 547.1,1096.7 545.1,1095.6 543,1097.4 541,1095.8 539,1095.8 537,1095.8 535,1095.5 533,1096.3 531,1096 529,1097.2 527,1096.4 527,1096.4 529,1095.8 531,1095 533,1095.9 535,1095.4 537,1096.7 539,1096 541,1097.1 543,1096.5 545,1096.6 547,1096.1 549,1096.1 551,1096.4 553,1096.6 555,1095.4 557,1096.3 559.1,1097.8 561.1,1095.8 563.1,1095.7 565.1,1095.4 567.1,1094.9 569.1,1096.7 571.1,1095.9 573.1,1096 575.1,1097.1 577.1,1097.6 579.1,1095.2 581.1,1096.5 583.1,1096.2 585.1,1096 587.1,1096.1 589.1,1095.7 591.1,1096.8 593.1,1096.1 595.1,1095.9 597.1,1096.5 599.1,1096.2 601.1,1095.9 603.1,1095.8 605.1,1096.8 607.1,1095.9 609.1,1095.4 611.1,1094.9 613.1,1095.2 615.1,1094.7 617.1,1095.5 619.1,1095.5 621.1,1093.9 623.1,1095.3 625.1,1095.7 627.1,1095.4 629.1,1094.6 631.1,1096.1 633.1,1094.7 635.2,1094.3 637.2,1094.4 639.2,1095.1 641.2,1095.7 643.2,1095.8 645.2,1095.1 647.2,1094.1 649.2,1094.5 651.2,1094.3 653.2,1094.7 655.2,1093.6 657.2,1094.9 659.2,1095.2 661.2,1094.6 663.2,1095 665.2,1094 667.2,1093.6 669.2,1094.1 671.2,1095.4 673.2,1095.2 675.2,1094.2 677.2,1095.3 679.2,1094.2 681.2,1095.4 683.2,1094.7 685.2,1094 687.2,1094.8 689.2,1093.7 691.2,1093.5 693.2,1093.1 695.2,1094.3 697.2,1094 699.2,1094 701.2,1093.7 703.2,1094.9 705.2,1093.6 707.2,1093.3 709.2,1094.6 711.2,1094.7 713.2,1093.9 715.2,1092.4 717.2,1093.1 719.2,1093.9 721.2,1093.4 723.2,1094.4 725.2,1092.3 727.2,1093.6 729.2,1092.6 731.2,1093.9 733.2,1092.8 735.2,1093.5 737.2,1092.2 739.2,1091.6 741.2,1091.7 743.2,1091.9 745.2,1091.5 747.2,1093 749.2,1093 751.2,1092.1 753.2,1091.1 755.2,1091.6 757.2,1091.1 759.2,1092.4 761.2,1091.5 763.2,1091.4 765.2,1090.6 767.2,1089.3 769.2,1090 771.2,1089.6 773.2,1090.5 775.2,1090.1 777.2,1089.3 779.2,1089.4 781.2,1090.5 783.2,1088.6 785.2,1088.4 787.1,1088.7 789.1,1088.1 791.1,1088.1 793.1,1088.6 795.1,1089.2 797.1,1086.5 799.1,1087.6 801.1,1087.4 803.1,1087.1 805.1,1086.9 807.1,1086.6 809.1,1087.3 811.1,1086.1 813.1,1086.2 815.1,1086.1 817.1,1085.9 819.1,1085.5 821.1,1086.2 823.1,1085.2 825.1,1085.1 827.1,1084.8 829,1083.9 831,1083.7 833,1083.3 835,1083.9 837,1083 838.9,1082.4 840.9,1083 842.8,1082.9 844.8,1080.8 846.7,1082.8 848.7,1081.2 850.6,1080.6 852.5,1080.8 854.5,1079.6 856.4,1078.5 858.3,1079.9 860.3,1077 862.2,1077.1 864.1,1077.1 866,1075.2 867.9,1075.2 869.8,1075 871.7,1075.8 873.7,1072.9 875.6,1072.8 877.6,1072.7 879.5,1071.7 881.4,1070.1 883.3,1070.5 885.2,1069.6 887,1069 888.8,1068.7 890.5,1067.7 892.2,1066.4 893.8,1065.2 895.4,1063.1 896.9,1062.4 898.4,1061.3 899.9,1059.7 901.4,1058.3 902.8,1056.8 904.1,1055.4 905.5,1053.9 906.9,1052.4 908.2,1050.9 909.5,1049.4 910.8,1047.8 912.1,1046.3 913.3,1044.7 914.5,1043.1 915.6,1041.4 916.7,1039.8 917.8,1038.1 918.8,1036.4 919.8,1034.7 920.8,1032.9 921.8,1031.2 922.7,1029.4 923.6,1027.6 924.6,1025.8 925.4,1024 926.3,1022.2 927.2,1020.4 928,1018.5 928.9,1016.7 929.7,1014.9 930.5,1013.1 931.3,1011.3 932.1,1009.4 932.9,1007.6 933.6,1005.7 934.4,1003.9 935.1,1002 935.9,1000.1 936.6,998.2 937.3,996.4 938,994.5 938.6,992.6 939.3,990.7 939.9,988.8 940.5,986.9 941.1,985 941.6,983.1 942.2,981.1 942.7,979.2 943.3,977.3 943.8,975.4 944.3,973.4 944.8,971.5 945.3,969.5 945.9,967.6 946.4,965.7 946.9,963.7 947.4,961.8 947.9,959.9 948.5,957.9 949,956 949.6,954.1 950.1,952.1 950.6,950.2 951.2,948.3 951.7,946.4 952.2,944.4 952.8,942.5 953.3,940.6 953.9,938.6 954.4,936.7 954.9,934.8 955.5,932.8 956,930.9 956.5,929 957.1,927.1 957.6,925.1 958.1,923.2 958.7,921.3 959.2,919.3 959.7,917.4 960.2,915.5 960.8,913.5 961.3,911.6 961.8,909.7 962.3,907.7 962.9,905.8 963.4,903.9 963.9,901.9 964.4,900 964.9,898.1 965.4,896.1 965.9,894.2 966.4,892.3 966.9,890.3 967.5,888.4 968,886.4 968.5,884.5 969,882.6 969.5,880.6 970,878.7 970.5,876.8 971,874.8 971.5,872.9 972,870.9 972.5,869 973,867.1 973.5,865.1 974,863.2 974.5,861.2 975,859.3 975.5,857.4 976,855.4 976.4,853.5 976.9,851.5 977.4,849.6 977.9,847.6 978.4,845.7 978.9,843.8 979.4,841.8 979.9,839.9 980.4,837.9 980.9,836 981.3,834.1 981.8,832.1 982.3,830.2 982.8,828.2 983.3,826.3 983.8,824.3 984.2,822.4 984.7,820.4 985.2,818.5 985.7,816.6 986.2,814.6 986.6,812.7 987.1,810.7 987.6,808.8 988.1,806.8 988.6,804.9 989,802.9 989.5,801 990,799.1 990.5,797.1 990.9,795.2 991.4,793.2 991.9,791.3 992.3,789.3 992.8,787.4 993.3,785.4 993.8,783.5 994.2,781.5 994.7,779.6 995.2,777.6 995.6,775.7 996.1,773.8 996.6,771.8 997,769.9 997.5,767.9 998,766 998.4,764 998.9,762.1 999.4,760.1 999.8,758.2 1000.3,756.2 1000.8,754.3 1001.2,752.3 1001.7,750.4 1002.2,748.4 1002.6,746.5 1003.1,744.5 1003.6,742.6 1004,740.6 1004.5,738.7 1005,736.7 1005.4,734.8 1005.9,732.8 1006.3,730.9 1006.8,728.9 1007.3,727 1007.7,725 1008.2,723.1 1008.6,721.1 1009.1,719.2 1009.5,717.2 1010,715.3 1010.4,713.3 1010.9,711.4 1011.3,709.4 1011.8,707.5 1012.2,705.5 1012.7,703.6 1013.1,701.6 1013.6,699.7 1014,697.7 1014.5,695.8 1014.9,693.8 1015.3,691.9 1015.8,689.9 1016.2,688 1016.7,686 1017.1,684 1017.5,682.1 1018,680.1 1018.4,678.2 1018.8,676.2 1019.2,674.3 1019.7,672.3 1020.1,670.4 1020.5,668.4 1020.9,666.4 1021.3,664.5 1021.8,662.5 1022.2,660.6 1022.6,658.6 1023,656.6 1023.4,654.7 1023.8,652.7 1024.2,650.8 1024.6,648.8 1025,646.8 1025.4,644.9 1025.8,642.9 1026.2,640.9 1026.6,639 1026.9,637 1027.3,635 1027.7,633.1 1028.1,631.1 1028.5,629.1 1028.8,627.2 1029.2,625.2 1029.6,623.3 1030,621.3 1030.4,619.3 1030.7,617.4 1031.1,615.4 1031.5,613.4 1031.9,611.5 1032.3,609.5 1032.6,607.5 1033,605.5 1033.4,603.6 1033.8,601.6 1034.1,599.6 1034.5,597.7 1034.9,595.7 1035.3,593.7 1035.6,591.8 1036,589.8 1036.4,587.8 1036.8,585.9 1037.1,583.9 1037.5,581.9 1037.9,580 1038.2,578 1038.6,576 1038.9,574.1 1039.3,572.1 1039.7,570.1 1040,568.1 1040.4,566.2 1040.7,564.2 1041.1,562.2 1041.4,560.3 1041.8,558.3 1042.1,556.3 1042.4,554.3 1042.8,552.4 1043.1,550.4 1043.4,548.4 1043.8,546.4 1044.1,544.5 1044.4,542.5 1044.7,540.5 1045,538.5 1045.3,536.6 1045.7,534.6 1046,532.6 1046.3,530.6 1046.6,528.6 1046.9,526.7 1047.2,524.7 1047.5,522.7 1047.8,520.7 1048,518.7 1048.3,516.8 1048.6,514.8 1048.9,512.8 1049.2,510.8 1049.5,508.8 1049.8,506.9 1050,504.9 1050.3,502.9 1050.6,500.9 1050.9,498.9 1051.1,496.9 1051.4,495 1051.7,493 1052,491 1052.2,489 1052.5,487 1052.8,485 1053,483 1053.3,481.1 1053.6,479.1 1053.8,477.1 1054.1,475.1 1054.3,473.1 1054.6,471.1 1054.9,469.1 1055.1,467.2 1055.4,465.2 1055.7,463.2 1055.9,461.2 1056.2,459.2 1056.5,457.2 1056.7,455.2 1057,453.3 1057.2,451.3 1057.5,449.3 1057.8,447.3 1058,445.3 1058.3,443.3 1058.6,441.4 1058.8,439.4 1059.1,437.4 1059.4,435.4 1059.6,433.4 1059.9,431.4 1060.2,429.4 1060.5,427.5 1060.7,425.5 1061,423.5 1061.3,421.5 1061.6,419.5 1061.8,417.5 1062.1,415.6 1062.4,413.6 1062.7,411.6 1063,409.6 1063.2,407.6 1063.5,405.6 1063.8,403.7 1064.1,401.7 1064.3,399.7 1064.6,397.7 1064.9,395.7 1065.2,393.7 1065.5,391.8 1065.7,389.8 1066,387.8 1066.3,385.8 1066.6,383.8 1066.8,381.8 1067.1,379.9 1067.4,377.9 1067.7,375.9 1068,373.9 1068.2,371.9 1068.5,369.9 1068.8,368 1069.1,366 1069.3,364 1069.6,362 1069.9,360 1070.2,358 1070.5,356.1 1070.7,354.1 1071,352.1 1071.3,350.1 1071.6,348.1 1071.9,346.1 1072.1,344.2 1072.4,342.2 1072.7,340.2 1073,338.2 1073.3,336.2 1073.6,334.3 1073.8,332.3 1074.1,330.3 1074.4,328.3 1074.7,326.3 1075,324.3 1075.3,322.4 1075.5,320.4 1075.8,318.4 1076.1,316.4 1076.4,314.4 1076.7,312.4 1077,310.5 1077.3,308.5 1077.5,306.5 1077.8,304.5 1078.1,302.5 1078.4,300.6 1078.7,298.6 1079,296.6 1079.3,294.6 1079.6,292.6 1079.8,290.6 1080.1,288.7 1080.4,286.7 1080.7,284.7 1081,282.7 1081.3,280.7 1081.6,278.8 1081.9,276.8 1082.2,274.8 1082.6,272.8 1082.9,270.9 1083.3,268.9 1083.6,266.9 1084,264.9 1084.4,263 1084.7,261 1085.1,259 1085.5,257.1 1085.9,255.1 1086.3,253.1 1086.8,251.2 1087.2,249.2 1087.7,247.3 1088.1,245.3 1088.6,243.4 1089.1,241.5 1089.6,239.5 1090.1,237.6 1090.6,235.6 1091.1,233.7 1091.7,231.7 1092.3,229.8 1092.9,227.9 1093.5,226 1094.2,224.1 1094.9,222.3 1095.6,220.4 1096.4,218.6 1097.3,216.8 1098.1,215 1099.1,213.2 1100.1,211.4 1101.1,209.7 1102.1,207.9 1103.2,206.3 1104.3,204.6 1105.5,203 1106.7,201.4 1107.9,199.5 1109.2,198 1110.6,198 1112,196 1113.4,193.7 1114.9,191.3 1116.4,191.4 1117.9,190.4 1119.5,188.8 1121.1,186.8 1122.8,186 1124.5,184.5 1126.2,184.5 1128,183.9 1129.7,183 1131.4,180.8 1133.2,180.6 1135,179.9 1136.8,178.3 1138.7,177.7 1140.5,178.6 1142.4,176.5 1144.3,176.3 1146.2,174.7 1148.1,174.5 1150,172.8 1152,173.6 1153.9,174.1 1155.9,174.4 1157.8,173.5 1159.8,172.8 1161.8,172 1163.8,171.3 1165.7,171.3 1167.7,171.6 1169.7,170.3 1171.7,171.3 1173.7,169.7 1175.7,168.9 1177.7,169.2 1179.7,168.6 1181.7,168.6 1183.7,170.1 1185.8,169.1 1187.8,169.2 1189.8,169.7 1191.8,169.7 1193.8,168.4 1195.8,169.6 1197.8,168.8 1199.8,168.5 1201.8,168.8 1203.8,167.4 1205.8,167.8 1207.8,168.3 1209.8,168.8 1211.8,168 1213.8,168.2 1215.8,168.9 1217.8,169.2 1219.8,168.7 1221.8,169.1 1223.8,167.9 1225.8,167.9 1227.8,168.3 1229.8,167.9 1231.8,167.7 1233.8,169.2 1235.8,167.9 1237.8,167.4 1239.8,168.4 1241.8,169.3 1243.8,168 1245.8,168.8 1247.8,167.7 1249.8,167.6 1251.8,167.5 1253.8,167.8 1255.8,169.2 1257.8,167.1 1259.8,169 1261.8,167.2 1263.8,167.7 1265.8,168.4 1267.9,168.3 1269.9,168 1271.9,166.7 1273.9,168.1 1275.9,167.1 1277.9,169.6 1279.9,167.6 1281.9,167.9 1283.9,166.9 1285.9,167.4 1287.9,166.8 1289.9,168.3 1291.9,167.4 1293.9,168 1295.9,167.1 1297.9,167.2 1299.9,168.4 1301.9,166.8 1303.9,166.2 1305.9,167.7 1307.9,166.5 1309.9,167 1311.9,167.9 1313.9,166.6 1315.9,167.8 1317.9,166.6 1319.9,168.1 1321.9,167.9 1323.9,166.6 1325.9,166.7 1327.9,166.2 1329.9,166.9 1331.9,167.4 1333.9,165.6 1335.9,167.1 1337.9,165.5 1339.9,165.7 1341.9,165 1344,167.7 1346,166.1 1348,166.2 1350,165.5 1352,166.6 1354,164.3 1356,165.7 1358,167.1 1360,165.2 1362,165.4 1364,165.8 1366,164.6 1368,165.1 1370,165.6 1371.9,164.9 1373.9,164.9 1375.9,164.2 1377.9,164.5 1379.9,164.2 1381.9,165 1383.9,164.4 1385.9,163.6 1387.9,161.9 1389.9,164 1391.9,163.9 1393.9,162.6 1395.9,161.7 1397.9,162.3 1399.9,163.7 1401.9,162.2 1403.9,162.6 1405.9,163 1407.9,163.7 1409.9,162.7 1411.9,162.6 1413.9,162.3 1415.9,163.7 1417.9,163.3 1419.9,162.4 1421.9,161.5 1423.9,161.9 1425.9,162.8 1427.9,161.8 1429.9,162.9 1431.9,162.5 1434,162.4 1436,162.7 1438,162.5 1440,161.6 1442,161.9 1444,163.7 1446,161.2 1448,161.7 1450,162.8 1452,161.9 1454,161.5 1456,161.1 1458,162.4 1460,162.7 1462,163" fill="none" stroke="#ff0000" stroke-width="5.0" stroke-linejoin="round" stroke-linecap="round" />
<polyline points="1462,154.9 1460,155.4 1458,154 1456,154.5 1454,154 1452,154.6 1450,155.1 1448,155.4 1446,154.2 1444,155.6 1442,154.7 1440,154.4 1438,154.9 1436,154.1 1434,155 1431.9,154.7 1429.9,153.9 1427.9,153.8 1425.9,153.1 1423.9,153.6 1421.9,153.1 1419.9,154.3 1417.9,153.8 1415.9,154.1 1413.9,154.4 1411.9,154.6 1409.9,153.6 1407.9,153.8 1405.9,154.6 1403.9,155.2 1401.9,155.2 1399.9,155.6 1397.9,156 1395.9,155.6 1393.9,155.5 1391.9,155 1389.9,155.1 1387.9,155.3 1385.9,155.8 1383.9,155.7 1381.9,155.5 1379.9,155.4 1377.9,155.8 1375.9,155.5 1373.9,155.7 1371.9,155.7 1369.9,155.4 1367.9,155.3 1365.9,156.5 1363.9,156.8 1361.9,156.2 1359.9,155.8 1357.9,157.1 1355.9,155.2 1353.8,155.6 1351.8,156.1 1349.8,155.4 1347.8,156.4 1345.8,157.7 1343.8,157.4 1341.8,157.4 1339.8,157.2 1337.8,156.9 1335.8,157.3 1333.8,156.4 1331.8,156 1329.8,156.1 1327.8,156.5 1325.8,156.6 1323.8,157.2 1321.8,156 1319.8,158.1 1317.8,158.7 1315.8,158.1 1313.8,157.1 1311.8,156.9 1309.8,157.7 1307.8,157.1 1305.8,158.3 1303.8,157.8 1301.8,158.9 1299.8,159.3 1297.8,157.3 1295.8,158.6 1293.8,158 1291.8,157.5 1289.8,157.9 1287.8,158.1 1285.8,158.8 1283.8,157.5 1281.8,159.2 1279.8,160 1277.8,159.2 1275.8,159.1 1273.8,158.8 1271.8,158 1269.8,159 1267.8,158.9 1265.8,159.1 1263.8,160.2 1261.8,159.2 1259.8,159.1 1257.8,159.8 1255.8,158.1 1253.8,158.2 1251.7,158.7 1249.7,158.5 1247.7,159.2 1245.7,158.6 1243.7,159.8 1241.7,159.6 1239.7,159.2 1237.7,158.5 1235.7,159.2 1233.7,159.4 1231.7,158.3 1229.7,159.3 1227.7,159.4 1225.7,159 1223.7,159.7 1221.7,159.4 1219.7,158.1 1217.7,158.7 1215.7,158.1 1213.7,159.4 1211.7,158.9 1209.7,160.4 1207.7,160.1 1205.7,160.3 1203.7,159.4 1201.7,158.5 1199.7,160.5 1197.7,159.4 1195.7,160.4 1193.7,159.9 1191.7,160 1189.7,160.7 1187.7,159.9 1185.7,160.6 1183.7,158.9 1181.6,160.4 1179.6,159.7 1177.6,159.9 1175.6,160 1173.6,160.2 1171.6,161.1 1169.6,159 1167.6,160.2 1165.6,159.7 1163.6,160.8 1161.6,159.7 1159.6,160.2 1157.6,159.9 1155.6,160.9 1153.6,161.4 1151.6,160.7 1149.6,160.7 1147.6,159.7 1145.6,160.5 1143.6,161.1 1141.6,160.6 1139.6,161.9 1137.6,160 1135.6,159.8 1133.6,159.8 1131.6,160 1129.6,160.4 1127.6,160.5 1125.6,160.7 1123.6,161.5 1121.6,161.1 1119.6,161 1117.6,161.4 1115.6,163.5 1113.6,160.7 1111.6,162 1109.6,162.9 1107.6,162.4 1105.6,161.6 1103.6,162.2 1101.6,162.9 1099.6,163.4 1097.6,162.4 1095.6,163.6 1093.6,163.2 1091.6,163.6 1089.6,163.7 1087.6,162.9 1085.6,162.6 1083.6,164 1081.6,165 1079.6,164.2 1077.6,163.7 1075.6,164.9 1073.6,163.1 1071.6,164.7 1069.6,164.3 1067.6,165.1 1065.7,165.3 1063.7,166.4 1061.7,165.2 1059.7,165.8 1057.7,165.6 1055.7,167.2 1053.7,167 1051.7,167.8 1049.7,167.2 1047.7,167.9 1045.8,168.8 1043.8,168 1041.8,168.4 1039.8,168.4 1037.8,168.4 1035.8,168.2 1033.8,170.3 1031.8,170 1029.8,170.4 1027.8,168.5 1025.8,168.7 1023.9,168.4 1021.9,169.2 1019.9,170.5 1017.9,170.4 1015.9,170.3 1014,170.8 1012,171.5 1010,171.8 1008.1,173.2 1006.1,174 1004.1,173.1 1002.2,174.4 1000.2,175.7 998.3,174.9 996.3,175.4 994.4,175.6 992.5,176.1 990.5,177.6 988.6,177.3 986.7,177.4 984.8,176.7 982.9,178.9 981,178.6 979.1,179.3 977.2,181.8 975.4,182.8 973.5,182.3 971.6,185 969.7,185.4 967.9,185.2 966,186.7 964.2,186.2 962.4,187.7 960.7,188.7 959,190.2 957.3,192.1 955.6,191.6 953.9,192.6 952.2,193.7 950.6,195.4 949.1,196.1 947.7,198 946.5,200.1 945.5,201.6 944.4,203.3 943.4,205.1 942.5,207 941.6,208.9 941,210.8 940.4,212.8 940.1,214.7 939.9,216.6 939.7,218.6 939.5,220.6 939.4,222.6 939.3,224.6 939.1,226.6 939,228.7 938.9,230.7 938.7,232.7 938.6,234.7 938.4,236.7 938.3,238.7 938.1,240.7 937.9,242.7 937.8,244.7 937.6,246.6 937.5,248.6 937.3,250.6 937.2,252.6 937,254.6 936.9,256.6 936.8,258.6 936.7,260.6 936.6,262.6 936.5,264.6 936.4,266.6 936.4,268.6 936.3,270.6 936.2,272.6 936.1,274.6 936.1,276.6 936,278.6 935.9,280.7 935.9,282.7 935.8,284.7 935.7,286.7 935.7,288.7 935.6,290.7 935.5,292.7 935.5,294.7 935.4,296.7 935.3,298.7 935.3,300.7 935.2,302.7 935.1,304.7 935.1,306.7 935,308.7 934.9,310.7 934.9,312.7 934.8,314.7 934.8,316.7 934.7,318.7 934.6,320.7 934.6,322.7 934.5,324.7 934.4,326.7 934.4,328.7 934.3,330.7 934.2,332.7 934.2,334.7 934.1,336.7 934.1,338.7 934,340.7 933.9,342.7 933.9,344.7 933.8,346.7 933.8,348.7 933.7,350.7 933.6,352.7 933.6,354.7 933.5,356.7 933.5,358.7 933.4,360.7 933.3,362.7 933.3,364.7 933.2,366.7 933.2,368.7 933.1,370.7 933,372.7 933,374.7 932.9,376.7 932.9,378.8 932.8,380.8 932.8,382.8 932.7,384.8 932.7,386.8 932.6,388.8 932.6,390.8 932.5,392.8 932.4,394.8 932.4,396.8 932.3,398.8 932.3,400.8 932.2,402.8 932.2,404.8 932.1,406.8 932.1,408.8 932,410.8 932,412.8 931.9,414.8 931.9,416.8 931.8,418.8 931.8,420.8 931.7,422.8 931.7,424.8 931.6,426.8 931.6,428.8 931.5,430.8 931.5,432.8 931.4,434.8 931.4,436.8 931.4,438.8 931.3,440.8 931.3,442.8 931.2,444.8 931.2,446.8 931.1,448.8 931.1,450.8 931,452.8 931,454.8 931,456.8 930.9,458.8 930.9,460.8 930.8,462.8 930.8,464.9 930.7,466.9 930.7,468.9 930.7,470.9 930.6,472.9 930.6,474.9 930.5,476.9 930.5,478.9 930.4,480.9 930.4,482.9 930.4,484.9 930.3,486.9 930.3,488.9 930.2,490.9 930.2,492.9 930.2,494.9 930.1,496.9 930.1,498.9 930,500.9 930,502.9 930,504.9 929.9,506.9 929.9,508.9 929.9,510.9 929.8,512.9 929.8,514.9 929.7,516.9 929.7,518.9 929.7,520.9 929.6,522.9 929.6,524.9 929.5,526.9 929.5,528.9 929.5,530.9 929.4,532.9 929.4,534.9 929.4,536.9 929.3,538.9 929.3,541 929.2,543 929.2,545 929.2,547 929.1,549 929.1,551 929,553 929,555 928.9,557 928.9,559 928.9,561 928.8,563 928.8,565 928.7,567 928.7,569 928.6,571 928.6,573 928.5,575 928.5,577 928.4,579 928.4,581 928.4,583 928.3,585 928.3,587 928.2,589 928.2,591 928.2,593 928.1,595 928.1,597 928,599 928,601 928,603 928,605 927.9,607 927.9,609 927.9,611 927.9,613 927.8,615 927.8,617.1 927.8,619.1 927.8,621.1 927.8,623.1 927.8,625.1 927.8,627.1 927.8,629.1 927.8,631.1 927.8,633.1 927.8,635.1 927.8,637.1 927.9,639.1 927.9,641.1 927.9,643.1 927.9,645.1 927.9,647.1 927.9,649.1 928,651.1 928,653.1 928,655.1 928,657.1 928,659.1 928,661.1 928,663.1 928,665.2 928,667.2 928,669.3 928,671.3 928,673.4 928,675.5 928,677.6 928,679.6 928,681.7 928,683.8 928,685.8 928,687.9 928,689.9 927.9,692 927.9,694 927.9,696 927.9,698 927.9,699.9 927.9,701.9 927.9,703.8 927.9,705.7 927.8,707.5 927.8,709.4 927.8,711.2 926.7,712.8 925.3,714.5 925.2,716.3 925.2,718.1 925.2,719.9 925.2,721.8 925.2,723.7 925.2,725.6 925.2,727.5 925.2,729.5 925.2,731.4 925.1,733.4 925.1,735.4 925.1,737.4 925.1,739.4 925.1,741.5 925.1,743.5 925.1,745.5 925.1,747.6 925.1,749.7 925.1,751.7 925.1,753.8 925.1,755.9 925.1,758 925.1,760 925.1,762.1 925.1,764.2 925.1,766.3 925.1,768.3 925.1,770.4 925.1,772.4 925.1,774.5 925.1,776.5 925.1,778.5 925.1,780.5 925.1,782.5 925.1,784.5 925.1,786.5 925.1,788.5 925.1,790.5 925.1,792.5 925.1,794.5 925,796.5 925,798.5 925,800.6 925,802.6 925,804.6 925,806.6 925,808.6 925,810.6 925,812.6 925,814.6 924.9,816.6 924.9,818.6 924.9,820.6 924.9,822.6 924.9,824.6 924.9,826.6 924.9,828.6 924.8,830.6 924.8,832.6 924.8,834.6 924.8,836.6 924.8,838.6 924.8,840.6 924.7,842.6 924.7,844.6 924.7,846.6 924.7,848.6 924.7,850.6 924.7,852.6 924.6,854.6 924.6,856.6 924.6,858.6 924.6,860.6 924.6,862.6 924.5,864.6 924.5,866.6 924.5,868.7 924.5,870.7 924.4,872.7 924.4,874.7 924.4,876.7 924.4,878.7 924.4,880.7 924.3,882.7 924.3,884.7 924.3,886.7 924.3,888.7 924.2,890.7 924.2,892.7 924.2,894.7 924.1,896.7 924.1,898.7 924.1,900.7 924.1,902.7 924,904.7 924,906.7 924,908.7 923.9,910.7 923.9,912.7 923.8,914.7 923.8,916.7 923.7,918.7 923.7,920.7 923.7,922.7 923.6,924.7 923.5,926.7 923.5,928.7 923.4,930.7 923.4,932.7 923.3,934.7 923.2,936.7 923.2,938.7 923.1,940.8 923,942.8 922.9,944.8 922.9,946.8 922.8,948.8 922.7,950.8 922.6,952.8 922.5,954.8 922.4,956.8 922.4,958.8 922.3,960.8 922.1,962.8 922,964.7 921.8,966.7 921.6,968.7 921.4,970.7 921.2,972.7 921,974.7 920.7,976.7 920.5,978.7 920.3,980.7 920.1,982.7 920,984.7 919.9,986.7 919.7,988.7 919.7,990.7 919.6,992.7 919.6,994.7 919.5,996.7 919.5,998.7 919.5,1000.7 919.4,1002.7 919.4,1004.7 919.4,1006.7 919.4,1008.7 919.3,1010.7 919.3,1012.7 919.3,1014.7 919.3,1016.7 919.2,1018.7 919.2,1020.7 919.2,1022.7 919.1,1024.7 919.1,1026.7 919.1,1028.7 919,1030.7 918.9,1032.7 918.9,1034.7 918.8,1036.7 918.6,1038.7 918.5,1040.7 918.4,1042.7 918.2,1044.7 918,1046.7 917.9,1048.7 917.7,1050.7 917.5,1052.7 917.3,1054.7 917.1,1056.7 916.9,1058.7 916.8,1059.6 916.6,1062.3 916.4,1064.8 916.2,1067.5 916,1068.2 915.7,1071.1 915.4,1072.4 915,1075.8 914.3,1076.3 913.3,1077.6 912,1079 910.7,1081.4 909.3,1083.1 907.9,1083.9 906.4,1086.5 904.8,1086.5 903.1,1087.3 901.3,1087.1 899.4,1087.4 897.5,1088.6 895.5,1089.1 893.4,1090.6 891.5,1091.2 889.5,1090.9 887.5,1090.8 885.5,1092.2 883.6,1090.4 881.6,1090.3 879.6,1091.8 877.6,1092 875.6,1092.7 873.6,1092.4 871.6,1092.1 869.6,1092.8 867.6,1093.6 865.6,1093 863.6,1093 861.6,1092.4 859.5,1092.3 857.5,1093.4 855.5,1093.3 853.5,1092.6 851.5,1092.8 849.5,1093.1 847.5,1093.7 845.5,1092.5 843.5,1092.9 841.5,1092 839.4,1092.8 837.4,1094 835.4,1094.3 833.4,1093 831.4,1093.2 829.4,1094 827.4,1093.3 825.4,1093.2 823.4,1093.8 821.4,1093.7 819.4,1094.4 817.4,1094.3 815.4,1093.6 813.4,1093.7 811.4,1093.5 809.4,1092.6 807.4,1092.8 805.4,1094.1 803.4,1092.6 801.4,1094.3 799.4,1093.7 797.4,1093.3 795.4,1093.6 793.4,1093.4 791.4,1093.5 789.4,1092.3 787.4,1092.1 785.4,1092.3 783.4,1093.8 781.4,1093.4 779.4,1092.4 777.4,1092.7 775.4,1092.5 773.4,1093 771.4,1092.8 769.4,1093.7 767.4,1091 765.3,1092.7 763.3,1092.7 761.3,1092.4 759.3,1093.1 757.3,1092.7 755.3,1092.9 753.3,1093.2 751.3,1091.6 749.3,1093.3 747.3,1092.3 745.3,1093.5 743.3,1092.7 741.3,1092.9 739.3,1092.3 737.3,1092.6 735.3,1092.1 733.3,1091.7 731.3,1092.7 729.3,1092.7 727.3,1093.6 725.3,1091.1 723.3,1092.2 721.3,1092.8 719.3,1091.3 717.3,1091.8 715.3,1093.3 713.3,1092.9 711.3,1091.5 709.3,1092.8 707.3,1092.4 705.3,1091.8 703.3,1091.2 701.3,1091.5 699.3,1091.3 697.3,1092 695.2,1092.9 693.2,1092.2 691.2,1092.9 689.2,1091.2 687.2,1089.7 685.2,1090.8 683.2,1091 681.2,1091 679.2,1091 677.2,1090.6 675.2,1092.1 673.2,1090.9 671.2,1091.7 669.2,1091.1 667.2,1090.6 665.2,1092.3 663.2,1090.2 661.2,1091.3 659.2,1092 657.2,1091.3 655.2,1091.7 653.2,1091.1 651.2,1091 649.2,1092.8 647.2,1091.5 645.2,1091.4 643.2,1090.7 641.2,1090.7 639.2,1091.5 637.2,1091.9 635.2,1092 633.2,1092 631.2,1092.8 629.2,1091.1 627.1,1091.6 625.1,1091.5 623.1,1091.4 621.1,1092.1 619.1,1091.8 617.1,1091.5 615.1,1092.7 613.1,1091.6 611.1,1091.5 609.1,1091.1 607.1,1091.9 605.1,1092 603.1,1092.2 601.1,1092.6 599.1,1090.8 597.1,1090.9 595.1,1090.9 593.1,1089.1 591.1,1090.6 589.1,1091.5 587.1,1091.9 585.1,1091.1 583.1,1092.1 581.1,1091.9 579.1,1090.5 577.1,1091.3 575.1,1091.4 573.1,1090.7 571.1,1089.9 569.1,1091.4 567.1,1090.4 565.1,1090.3 563.1,1090.6 561.1,1090.1 559,1091 557,1090.8 555,1091 553,1090.8 551,1090 549,1090.5 547,1091.2 545,1090.4 543,1092.3 541,1090.4 539,1090.1 537,1091.1 535,1090.8 533,1090.4 531,1090.5 529,1091.1 527,1091.6 527,1094.3 529,1093 531,1093.4 533,1093.6 535,1093.5 537,1093.4 539,1094.5 541,1094.7 543,1094.8 545,1094.3 547,1095.8 549,1095.6 551,1094.2 553,1094.2 555,1094.9 557,1093.8 559,1094.7 561,1094.7 563,1094.3 565.1,1094.5 567.1,1093.6 569.1,1094.2 571.1,1093.1 573.1,1095.4 575.1,1094.6 577.1,1094.4 579.1,1094 581.1,1094.7 583.1,1095 585.1,1094.9 587.1,1094.9 589.1,1093.9 591.1,1094.7 593.1,1094.3 595.1,1094.1 597.1,1094.3 599.1,1095.1 601.1,1095.3 603.1,1093.7 605.1,1095.4 607.1,1095.4 609.1,1094.3 611.1,1094.4 613.1,1094.6 615.1,1095.2 617.1,1094.3 619.1,1093.9 621.1,1094.9 623.1,1093.6 625.1,1095.1 627.1,1095.7 629.1,1095.2 631.1,1095.6 633.1,1095.4 635.1,1095.7 637.1,1095.5 639.1,1095.1 641.2,1095.5 643.2,1095.6 645.2,1096.3 647.2,1096.5 649.2,1095.7 651.2,1095 653.2,1094.9 655.2,1095.2 657.2,1096.2 659.2,1095.6 661.2,1095.4 663.2,1094.9 665.2,1095.9 667.2,1095.5 669.2,1095.3 671.2,1095.4 673.2,1096.4 675.2,1095.3 677.2,1096.7 679.2,1096.6 681.2,1096.1 683.2,1096.3 685.2,1095.1 687.2,1094.2 689.2,1094 691.2,1094 693.2,1095.2 695.2,1095.2 697.2,1095.7 699.2,1096 701.2,1093.7 703.2,1095.8 705.2,1094.7 707.2,1096 709.2,1095.5 711.2,1095.9 713.2,1096.4 715.2,1094.2 717.2,1095.1 719.3,1095.1 721.3,1094.2 723.3,1096 725.3,1095.7 727.3,1095.5 729.3,1095.4 731.3,1097.9 733.3,1095.5 735.3,1094.5 737.3,1094.8 739.3,1095 741.3,1094.7 743.3,1094.7 745.3,1093.9 747.3,1095.1 749.3,1094.7 751.3,1094.4 753.3,1094.8 755.3,1094.9 757.3,1095.6 759.3,1095.2 761.3,1095 763.3,1095.5 765.3,1095.8 767.3,1097 769.3,1095.2 771.3,1095.6 773.3,1095.6 775.3,1094.9 777.3,1096 779.3,1096.3 781.3,1096 783.3,1096.4 785.3,1096.5 787.3,1096.3 789.3,1095.4 791.3,1095.5 793.3,1096.6 795.3,1094.5 797.3,1095.3 799.3,1095.8 801.4,1095.4 803.4,1095.6 805.4,1095.2 807.4,1095.5 809.4,1095.8 811.4,1095.1 813.4,1095.5 815.4,1095.5 817.4,1095.5 819.4,1095.8 821.4,1095.3 823.4,1096.4 825.4,1096.7 827.4,1096.4 829.4,1095.8 831.4,1094.5 833.4,1096.2 835.4,1094.9 837.4,1095.3 839.4,1096.2 841.4,1094.1 843.4,1095 845.5,1094.7 847.5,1094.6 849.6,1094.3 851.7,1095.2 853.8,1094.9 855.9,1096 858,1096.4 860.1,1094.4 862.2,1094.4 864.3,1093.9 866.4,1093 868.5,1093.4 870.6,1094.5 872.7,1094.6 874.8,1093.8 876.9,1094.4 878.9,1095 881,1093.8 883,1093.5 885.1,1094.5 887.1,1093.9 889.1,1092 891,1092.2 893,1093.2 894.9,1092.3 896.8,1092.9 898.7,1092.9 900.5,1093.5 902.3,1091.8 904.1,1092.3 905.9,1093.2 907.6,1094.7 909.2,1094.4 910.7,1095 912.2,1097.2 914,1097.1 915.9,1096.2 918,1095.7 920,1095.7 922.1,1095.9 924.1,1095.2 926.1,1095.6 928.1,1095.3 930.1,1095.1 932.2,1094.8 934.2,1095.6 936.2,1095.5 938.3,1095.7 940.3,1096.6 942.3,1096.4 944.3,1096.7 946.2,1095.3 948.1,1096.5 950,1095.9 951.8,1095.2 953.6,1094.1 955.3,1094 957.1,1092.5 958.9,1091 960.8,1090.5 962.8,1091.6 964.7,1091.7 966.7,1093.3 968.7,1091.5 970.8,1091.1 972.8,1091.8 974.8,1091.8 976.9,1091.8 978.9,1092.2 981,1093 983,1091.6 985,1091.8 987,1091.3 989,1092.7 991,1093 992.9,1091.8 994.8,1092 996.7,1090.3 998.6,1090 1000.6,1088.2 1002.5,1086.6 1004.4,1087.2 1006.3,1087.6 1008.2,1088.6 1010.1,1090.4 1012,1090.2 1013.7,1089.5 1015.5,1086.8 1017.3,1086.1 1019.2,1085.3 1021.2,1086.4 1023.2,1086.1 1025.2,1085.6 1027.3,1086.5 1029.4,1086.5 1031.4,1084.8 1033.5,1086 1035.5,1085.3 1037.5,1084.7 1039.4,1084.7 1041.3,1085.8 1043.2,1085.3 1045.2,1084.4 1046.8,1081.2 1047.6,1080 1048.1,1079.2 1048.6,1076.2 1048.9,1074.7 1049.1,1072.3 1049.3,1072.3 1049.5,1069.5 1049.6,1066.9 1049.7,1064.5 1049.8,1062 1049.9,1059.8 1050,1058.4 1050.1,1056.4 1050.1,1054.4 1050.2,1052.4 1050.3,1050.4 1050.4,1048.4 1050.5,1046.4 1050.6,1044.4 1050.7,1042.4 1050.9,1040.4 1051,1038.4 1051.2,1036.4 1051.4,1034.4 1051.5,1032.4 1051.7,1030.4 1051.9,1028.4 1052,1026.4 1052.2,1024.4 1052.3,1022.4 1052.5,1020.4 1052.6,1018.4 1052.6,1016.4 1052.7,1014.4 1052.8,1012.4 1052.8,1010.4 1052.9,1008.4 1052.9,1006.4 1052.9,1004.4 1053,1002.4 1053,1000.4 1053.1,998.4 1053.1,996.4 1053.2,994.4 1053.2,992.4 1053.3,990.4 1053.4,988.4 1053.5,986.4 1053.7,984.4 1053.9,982.4 1054.1,980.4 1054.3,978.4 1054.5,976.4 1054.7,974.4 1055,972.5 1055.2,970.5 1055.4,968.5 1055.6,966.5 1055.8,964.5 1055.9,962.5 1056,960.5 1056,958.5 1056.1,956.5 1056.2,954.5 1056.2,952.5 1056.3,950.5 1056.3,948.5 1056.4,946.5 1056.4,944.5 1056.4,942.5 1056.5,940.5 1056.5,938.5 1056.6,936.5 1056.6,934.5 1056.6,932.5 1056.7,930.5 1056.7,928.5 1056.7,926.5 1056.7,924.5 1056.8,922.5 1056.8,920.4 1056.8,918.4 1056.8,916.4 1056.9,914.4 1056.9,912.4 1056.9,910.4 1056.9,908.4 1056.9,906.4 1057,904.4 1057,902.4 1057,900.4 1057,898.4 1057,896.4 1057,894.4 1057.1,892.4 1057.1,890.4 1057.1,888.4 1057.1,886.4 1057.1,884.4 1057.1,882.4 1057.1,880.4 1057.2,878.4 1057.2,876.4 1057.2,874.4 1057.2,872.4 1057.2,870.4 1057.2,868.4 1057.2,866.4 1057.2,864.4 1057.3,862.4 1057.3,860.4 1057.3,858.4 1057.3,856.4 1057.3,854.4 1057.3,852.4 1057.3,850.4 1057.3,848.3 1057.3,846.3 1057.3,844.3 1057.3,842.3 1057.4,840.3 1057.4,838.3 1057.4,836.3 1057.4,834.3 1057.4,832.3 1057.4,830.3 1057.4,828.3 1057.4,826.3 1057.4,824.3 1057.4,822.3 1057.4,820.3 1057.4,818.3 1057.5,816.3 1057.5,814.3 1057.5,812.3 1057.5,810.3 1057.5,808.3 1057.5,806.3 1057.5,804.3 1057.5,802.3 1057.5,800.3 1057.5,798.3 1057.5,796.3 1057.5,794.3 1057.5,792.3 1057.6,790.3 1057.6,788.3 1057.6,786.3 1057.6,784.3 1057.6,782.3 1057.6,780.3 1057.6,778.3 1057.6,776.2 1057.6,774.2 1057.6,772.2 1057.6,770.1 1057.6,768.1 1057.6,766.1 1057.6,764 1057.7,761.9 1057.7,759.9 1057.7,757.8 1057.7,755.7 1057.7,753.7 1057.7,751.6 1057.7,749.5 1057.7,747.5 1057.7,745.4 1057.7,743.4 1057.7,741.3 1057.7,739.2 1057.7,737.2 1057.7,735.2 1057.7,733.1 1057.7,731.1 1057.7,729.1 1057.7,727 1057.7,725 1057.7,723 1057.7,721.1 1057.8,719.1 1057.8,717.1 1057.8,715.2 1057.8,713.2 1057.8,711.3 1057.8,709.4 1057.8,707.5 1057.8,705.7 1057.9,703.8 1057.9,702 1057.9,700.1 1058.6,698.4 1060.1,696.7 1060.9,695 1060.9,693.1 1061,691.3 1061,689.4 1061,687.4 1061.1,685.4 1061.1,683.4 1061.1,681.4 1061.1,679.4 1061.1,677.4 1061.2,675.3 1061.2,673.2 1061.2,671.2 1061.2,669.1 1061.2,667 1061.2,665 1061.2,663 1061.2,660.9 1061.2,658.9 1061.2,656.9 1061.2,654.9 1061.1,652.9 1061.1,650.9 1061.1,648.9 1061,646.9 1061,644.9 1060.9,642.9 1060.9,640.9 1060.8,638.9 1060.8,636.9 1060.8,634.9 1060.7,632.9 1060.7,630.9 1060.7,628.9 1060.7,626.9 1060.7,624.9 1060.7,622.9 1060.7,620.9 1060.7,618.9 1060.7,616.9 1060.8,614.9 1060.8,612.9 1060.8,610.9 1060.8,608.9 1060.9,606.9 1060.9,604.9 1060.9,602.9 1061,600.9 1061,598.9 1061.1,596.9 1061.1,594.9 1061.1,592.9 1061.2,590.9 1061.2,588.9 1061.3,586.8 1061.3,584.8 1061.4,582.8 1061.4,580.8 1061.5,578.8 1061.5,576.8 1061.6,574.8 1061.6,572.8 1061.7,570.8 1061.7,568.8 1061.8,566.8 1061.9,564.8 1061.9,562.8 1062,560.8 1062,558.8 1062.1,556.8 1062.1,554.8 1062.1,552.8 1062.2,550.8 1062.2,548.8 1062.3,546.8 1062.3,544.8 1062.4,542.8 1062.4,540.8 1062.4,538.8 1062.5,536.8 1062.5,534.8 1062.5,532.8 1062.5,530.8 1062.6,528.8 1062.6,526.8 1062.6,524.8 1062.7,522.8 1062.7,520.8 1062.7,518.8 1062.7,516.8 1062.8,514.8 1062.8,512.8 1062.8,510.8 1062.8,508.8 1062.9,506.8 1062.9,504.8 1062.9,502.8 1062.9,500.7 1063,498.7 1063,496.7 1063,494.7 1063,492.7 1063.1,490.7 1063.1,488.7 1063.1,486.7 1063.1,484.7 1063.2,482.7 1063.2,480.7 1063.2,478.7 1063.2,476.7 1063.3,474.7 1063.3,472.7 1063.3,470.7 1063.3,468.7 1063.4,466.7 1063.4,464.7 1063.4,462.7 1063.4,460.7 1063.5,458.7 1063.5,456.7 1063.5,454.7 1063.5,452.7 1063.6,450.7 1063.6,448.7 1063.6,446.7 1063.7,444.7 1063.7,442.7 1063.7,440.7 1063.8,438.7 1063.8,436.7 1063.8,434.7 1063.9,432.7 1063.9,430.7 1063.9,428.7 1064,426.7 1064,424.7 1064,422.7 1064.1,420.7 1064.1,418.7 1064.2,416.6 1064.2,414.6 1064.3,412.6 1064.3,410.6 1064.4,408.6 1064.4,406.6 1064.5,404.6 1064.5,402.6 1064.6,400.6 1064.6,398.6 1064.7,396.6 1064.7,394.6 1064.8,392.6 1064.9,390.6 1064.9,388.6 1065,386.6 1065,384.6 1065.1,382.6 1065.2,380.6 1065.2,378.6 1065.3,376.6 1065.4,374.6 1065.5,372.6 1065.5,370.6 1065.6,368.6 1065.7,366.6 1065.7,364.6 1065.8,362.6 1065.9,360.6 1066,358.6 1066,356.6 1066.1,354.6 1066.2,352.6 1066.3,350.6 1066.4,348.6 1066.5,346.6 1066.5,344.6 1066.6,342.6 1066.7,340.6 1066.8,338.6 1066.9,336.6 1067,334.6 1067,332.6 1067.1,330.6 1067.2,328.6 1067.3,326.6 1067.4,324.6 1067.5,322.6 1067.6,320.6 1067.7,318.6 1067.7,316.6 1067.8,314.6 1067.9,312.6 1068,310.6 1068.1,308.6 1068.2,306.6 1068.3,304.6 1068.4,302.6 1068.5,300.6 1068.6,298.6 1068.7,296.6 1068.8,294.6 1068.8,292.6 1068.9,290.6 1069,288.6 1069.1,286.6 1069.2,284.6 1069.4,282.6 1069.5,280.6 1069.6,278.6 1069.7,276.6 1069.8,274.6 1069.9,272.6 1070.1,270.6 1070.2,268.6 1070.3,266.6 1070.5,264.6 1070.6,262.6 1070.8,260.6 1071,258.6 1071.1,256.6 1071.3,254.6 1071.5,252.6 1071.7,250.6 1071.9,248.6 1072.1,246.6 1072.3,244.6 1072.6,242.6 1072.8,240.7 1073.1,238.7 1073.4,236.7 1073.7,234.7 1074,232.7 1074.4,230.8 1074.8,228.8 1075.2,226.8 1075.6,224.9 1076,222.9 1076.5,221 1077,219 1077.5,217.1 1078,215.2 1078.5,213.2 1079.1,211.3 1079.7,209.4 1080.4,207.5 1081.1,205.6 1081.8,203.7 1082.6,201.9 1083.4,200.1 1084.3,198.1 1085.2,195.4 1086.3,194.1 1087.4,192.3 1088.5,190.1 1089.6,189.4 1090.8,186.9 1092.1,185.8 1093.3,184.6 1094.7,183.3 1096.1,182.1 1097.6,180.9 1099.1,181.3 1100.6,178.7 1102.2,176.2 1103.9,175 1105.6,173.7 1107.4,173.2 1109.2,172.2 1111,171.3 1112.9,172.1 1114.8,170.5 1116.6,169.7 1118.5,169.1 1120.3,168.5 1122.2,168.8 1124.1,167.7 1126.1,167.5 1128,164.4 1129.9,166.1 1131.9,166.1 1133.8,166.1 1135.8,164.5 1137.7,163 1139.7,164.2 1141.7,163.4 1143.7,162.7 1145.7,163.3 1147.7,163.7 1149.7,163.2 1151.7,162.4 1153.7,161.1 1155.6,163.2 1157.6,161 1159.6,161.6 1161.6,160.8 1163.6,162.4 1165.6,161.9 1167.6,162 1169.6,161.2 1171.6,160.9 1173.6,160.8 1175.6,159.5 1177.6,161.1 1179.7,161 1181.7,160.1 1183.7,160.3 1185.7,160.4 1187.7,161 1189.7,160.3 1191.7,160 1193.7,159.6 1195.7,158.9 1197.7,159.3 1199.7,159.6 1201.7,159.3 1203.7,159.5 1205.7,159.9 1207.7,159.8 1209.7,159.6 1211.7,159.7 1213.7,159.2 1215.7,158.9 1217.7,159.5 1219.7,158.4 1221.7,160.4 1223.7,158.8 1225.7,159.8 1227.7,159 1229.7,159.4 1231.7,159.2 1233.7,159.1 1235.7,160.8 1237.7,160.5 1239.7,160.4 1241.7,160.3 1243.7,160.7 1245.7,160.5 1247.7,160.1 1249.7,158.9 1251.8,159.4 1253.8,159.5 1255.8,160.3 1257.8,159.3 1259.8,158.9 1261.8,159.6 1263.8,158.7 1265.8,158.8 1267.8,159.2 1269.8,158.4 1271.8,160.1 1273.8,159.7 1275.8,159.1 1277.8,158.4 1279.8,159.1 1281.8,159.8 1283.8,158.6 1285.8,158.4 1287.8,159.1 1289.8,157.7 1291.8,157.1 1293.8,158.1 1295.8,158.2 1297.8,158.6 1299.8,158.7 1301.8,159 1303.8,158.3 1305.8,157.8 1307.8,157.7 1309.8,158.4 1311.8,158.7 1313.8,158.7 1315.8,158.3 1317.8,155.6 1319.8,156.6 1321.8,156.8 1323.8,157.2 1325.8,156.2 1327.8,158.1 1329.8,157.5 1331.8,157 1333.8,157.6 1335.8,157.3 1337.8,156.9 1339.8,157.4 1341.8,156.7 1343.8,156 1345.9,156.5 1347.9,156.7 1349.9,156.2 1351.9,157.7 1353.9,156.5 1355.9,158.4 1357.9,157.8 1359.9,156.5 1361.9,157.1 1363.9,157.6 1365.9,157 1367.9,156.5 1369.9,157.5 1371.9,158.3 1373.9,155.7 1375.9,156.4 1377.9,155.7 1379.9,156 1381.9,156.3 1383.9,156.7 1385.9,157.7 1387.9,157.4 1389.9,156.4 1391.9,157.9 1393.9,155.8 1395.9,156.7 1397.9,156.1 1399.9,156.6 1401.9,156.2 1403.9,156.6 1405.9,156 1407.9,156.9 1409.9,156.8 1411.9,158.2 1413.9,156.5 1415.9,157.3 1417.9,156.6 1419.9,156.2 1421.9,155.8 1423.9,156.4 1425.9,155.3 1427.9,155.5 1430,156.9 1432,155.8 1434,157.7 1436,156.5 1438,156.7 1440,156.5 1442,156.7 1444,156.4 1446,156.4 1448,156.7 1450,157.2 1452,157.1 1454,156.9 1456,156.4 1458,156.2 1460,155.5 1462,157.1" fill="none" stroke="#008a00" stroke-width="5.0" stroke-linejoin="round" stroke-linecap="round" />
<polyline points="1462,161.3 1460,160.8 1458,158.6 1456,161.3 1454,160.8 1452,159.8 1450,161.7 1448,158.8 1446,162.2 1444,160.1 1442,162.3 1440,160.7 1437.9,159.2 1435.9,160.1 1433.9,159.9 1431.9,160.5 1429.9,161.3 1427.9,160 1425.9,161.4 1423.9,161.4 1421.9,160.3 1419.9,159.5 1417.9,159.7 1415.9,161.4 1413.9,161.6 1411.9,160.2 1409.9,159.6 1407.9,161.8 1405.9,159.1 1403.9,160.7 1401.9,160 1399.9,159.2 1397.9,161 1395.9,160.8 1393.8,162.4 1391.8,163.2 1389.8,160.8 1387.8,161.6 1385.8,161.3 1383.8,159.7 1381.8,159.5 1379.8,161.8 1377.8,160.1 1375.8,160.4 1373.8,160.1 1371.8,160.3 1369.8,159.8 1367.8,161.1 1365.8,161.6 1363.8,160.2 1361.8,159.1 1359.8,160.1 1357.8,158.5 1355.8,159.1 1353.8,161 1351.8,162.2 1349.7,160.6 1347.7,159.4 1345.7,161 1343.7,158.3 1341.7,159.7 1339.7,161.6 1337.7,160.8 1335.7,158.8 1333.7,158.6 1331.7,161 1329.7,160.2 1327.7,159.8 1325.7,160.5 1323.7,159.4 1321.7,158 1319.7,160.7 1317.7,159.8 1315.7,159.9 1313.7,159.9 1311.7,161.2 1309.7,160.1 1307.7,161.3 1305.6,160.6 1303.6,162 1301.6,160.8 1299.6,160.7 1297.6,159.2 1295.6,159.5 1293.6,160.8 1291.6,162.7 1289.6,158.8 1287.6,159 1285.6,160.2 1283.6,160.5 1281.6,159.7 1279.6,160.6 1277.6,159 1275.6,159.9 1273.6,160.7 1271.6,161.1 1269.6,159.8 1267.6,159.9 1265.6,160.8 1263.6,161.5 1261.5,160.8 1259.5,159.5 1257.5,160.4 1255.5,161 1253.5,159.6 1251.5,159 1249.5,160.8 1247.5,160.7 1245.5,161.3 1243.5,160.6 1241.5,160 1239.5,160.1 1237.5,159.6 1235.5,159.7 1233.5,160.3 1231.5,160.7 1229.5,162.4 1227.5,160.1 1225.5,161 1223.5,160.3 1221.5,161.9 1219.5,160.6 1217.4,159.7 1215.4,160.5 1213.4,160.2 1211.4,160 1209.4,162.1 1207.4,161.4 1205.4,162 1203.4,161.2 1201.4,160.5 1199.4,160.1 1197.4,159.2 1195.4,161 1193.4,160.5 1191.4,160.9 1189.4,160.1 1187.4,159.3 1185.4,159.1 1183.4,160.7 1181.4,161.4 1179.4,160.2 1177.4,161.2 1175.3,162.4 1173.3,160.7 1171.3,161 1169.3,160.1 1167.3,162 1165.3,161.1 1163.3,160.5 1161.3,159.5 1159.3,160.9 1157.3,162.1 1155.3,161 1153.3,161 1151.3,162.1 1149.3,160.5 1147.3,161.8 1145.3,162.4 1143.3,161.5 1141.3,161.8 1139.3,163.2 1137.3,163 1135.3,162.6 1133.3,162.8 1131.3,162.6 1129.3,161.6 1127.3,162 1125.3,163.2 1123.3,164.1 1121.3,164.8 1119.4,163.4 1117.4,165.7 1115.4,165.5 1113.4,164.8 1111.4,165.3 1109.4,165.7 1107.5,167 1105.5,164.9 1103.5,166.8 1101.5,166.5 1099.5,166.8 1097.4,168.4 1095.4,168.4 1093.4,166.8 1091.4,167.4 1089.4,167.9 1087.4,166.5 1085.4,168.6 1083.4,167.9 1081.4,168.3 1079.5,168.7 1077.5,170.3 1075.6,169.1 1073.6,169.2 1071.7,171.8 1069.8,170.5 1068,171.3 1066.3,171.5 1064.7,174.9 1063.1,175.5 1061.6,177.2 1060.2,178.5 1058.9,180 1057.8,181.1 1056.8,182.9 1055.8,185.8 1054.8,187.5 1054,190.7 1053.1,190.4 1052.3,192.5 1051.6,193.8 1050.8,197.6 1050.1,196.9 1049.4,200.4 1048.7,201.8 1048.1,203.7 1047.4,205.6 1046.8,207.5 1046.2,209.5 1045.6,211.4 1045.1,213.3 1044.5,215.2 1044,217.2 1043.5,219.1 1043,221 1042.5,223 1042.1,224.9 1041.6,226.9 1041.2,228.8 1040.7,230.8 1040.3,232.8 1039.9,234.7 1039.5,236.7 1039.1,238.6 1038.7,240.6 1038.3,242.6 1037.9,244.5 1037.5,246.5 1037.1,248.5 1036.7,250.4 1036.4,252.4 1036,254.4 1035.7,256.4 1035.3,258.3 1035,260.3 1034.6,262.3 1034.3,264.3 1034,266.2 1033.6,268.2 1033.3,270.2 1033,272.2 1032.7,274.2 1032.3,276.1 1032,278.1 1031.7,280.1 1031.4,282.1 1031.1,284.1 1030.8,286 1030.5,288 1030.2,290 1029.9,292 1029.5,294 1029.2,295.9 1028.9,297.9 1028.6,299.9 1028.3,301.9 1028,303.9 1027.7,305.8 1027.4,307.8 1027,309.8 1026.7,311.8 1026.4,313.8 1026.1,315.7 1025.8,317.7 1025.5,319.7 1025.1,321.7 1024.8,323.7 1024.5,325.6 1024.2,327.6 1023.9,329.6 1023.6,331.6 1023.2,333.6 1022.9,335.5 1022.6,337.5 1022.3,339.5 1022,341.5 1021.7,343.4 1021.3,345.4 1021,347.4 1020.7,349.4 1020.4,351.4 1020.1,353.3 1019.8,355.3 1019.4,357.3 1019.1,359.3 1018.8,361.3 1018.5,363.2 1018.2,365.2 1017.8,367.2 1017.5,369.2 1017.2,371.2 1016.9,373.1 1016.6,375.1 1016.2,377.1 1015.9,379.1 1015.6,381 1015.3,383 1015,385 1014.6,387 1014.3,389 1014,390.9 1013.7,392.9 1013.4,394.9 1013,396.9 1012.7,398.9 1012.4,400.8 1012.1,402.8 1011.8,404.8 1011.4,406.8 1011.1,408.8 1010.8,410.7 1010.5,412.7 1010.2,414.7 1009.8,416.7 1009.5,418.6 1009.2,420.6 1008.9,422.6 1008.6,424.6 1008.2,426.6 1007.9,428.5 1007.6,430.5 1007.3,432.5 1007,434.5 1006.7,436.5 1006.3,438.4 1006,440.4 1005.7,442.4 1005.4,444.4 1005.1,446.4 1004.8,448.3 1004.5,450.3 1004.1,452.3 1003.8,454.3 1003.5,456.3 1003.2,458.2 1002.9,460.2 1002.6,462.2 1002.3,464.2 1002,466.2 1001.6,468.1 1001.3,470.1 1001,472.1 1000.7,474.1 1000.4,476.1 1000.1,478 999.7,480 999.4,482 999.1,484 998.8,486 998.5,487.9 998.2,489.9 997.8,491.9 997.5,493.9 997.2,495.9 996.9,497.8 996.6,499.8 996.2,501.8 995.9,503.8 995.6,505.7 995.2,507.7 994.9,509.7 994.6,511.7 994.3,513.7 993.9,515.6 993.6,517.6 993.3,519.6 992.9,521.6 992.6,523.5 992.2,525.5 991.9,527.5 991.6,529.5 991.2,531.4 990.9,533.4 990.5,535.4 990.2,537.3 989.8,539.3 989.5,541.3 989.1,543.3 988.8,545.2 988.4,547.2 988,549.2 987.7,551.1 987.3,553.1 986.9,555.1 986.5,557.1 986.2,559 985.8,561 985.4,563 985,564.9 984.6,566.9 984.2,568.9 983.8,570.8 983.4,572.8 983.1,574.8 982.7,576.7 982.3,578.7 981.9,580.7 981.5,582.6 981.1,584.6 980.7,586.5 980.3,588.5 979.9,590.5 979.5,592.4 979.1,594.4 978.7,596.4 978.3,598.3 977.9,600.3 977.5,602.3 977.1,604.2 976.7,606.2 976.3,608.2 975.9,610.1 975.6,612.1 975.2,614.1 974.8,616 974.4,618 974,620 973.6,621.9 973.3,623.9 972.9,625.9 972.5,627.8 972.1,629.8 971.8,631.8 971.4,633.8 971,635.7 970.7,637.7 970.3,639.7 969.9,641.6 969.6,643.6 969.2,645.6 968.8,647.6 968.5,649.5 968.1,651.5 967.8,653.5 967.4,655.4 967.1,657.4 966.7,659.4 966.4,661.4 966,663.3 965.7,665.3 965.3,667.3 965,669.3 964.6,671.2 964.3,673.2 963.9,675.2 963.6,677.2 963.2,679.1 962.9,681.1 962.5,683.1 962.2,685.1 961.8,687 961.5,689 961.2,691 960.8,693 960.5,694.9 960.1,696.9 959.8,698.9 959.4,700.9 959.1,702.8 958.8,704.8 958.4,706.8 958.1,708.8 957.7,710.7 957.4,712.7 957.1,714.7 956.7,716.7 956.4,718.6 956.1,720.6 955.7,722.6 955.4,724.6 955.1,726.6 954.7,728.5 954.4,730.5 954.1,732.5 953.8,734.5 953.4,736.4 953.1,738.4 952.8,740.4 952.5,742.4 952.1,744.4 951.8,746.3 951.5,748.3 951.2,750.3 950.9,752.3 950.6,754.2 950.2,756.2 949.9,758.2 949.6,760.2 949.3,762.2 949,764.1 948.7,766.1 948.4,768.1 948.1,770.1 947.8,772.1 947.5,774.1 947.2,776 946.9,778 946.6,780 946.3,782 946,784 945.7,785.9 945.5,787.9 945.2,789.9 944.9,791.9 944.6,793.9 944.4,795.9 944.1,797.9 943.8,799.9 943.6,801.8 943.3,803.8 943.1,805.8 942.8,807.8 942.6,809.8 942.3,811.8 942.1,813.8 941.8,815.8 941.6,817.8 941.3,819.7 941.1,821.7 940.8,823.7 940.6,825.7 940.3,827.7 940.1,829.7 939.9,831.7 939.6,833.7 939.4,835.7 939.1,837.7 938.9,839.7 938.6,841.7 938.4,843.6 938.2,845.6 937.9,847.6 937.7,849.6 937.4,851.6 937.2,853.6 936.9,855.6 936.7,857.6 936.4,859.6 936.2,861.6 935.9,863.5 935.6,865.5 935.4,867.5 935.1,869.5 934.8,871.5 934.6,873.5 934.3,875.5 934,877.4 933.7,879.4 933.5,881.4 933.2,883.4 932.9,885.4 932.6,887.4 932.3,889.3 932,891.3 931.7,893.3 931.4,895.3 931,897.2 930.7,899.2 930.4,901.2 930.1,903.2 929.7,905.1 929.4,907.1 929.1,909.1 928.7,911.1 928.3,913 928,915 927.6,917 927.3,919 926.9,920.9 926.5,922.9 926.1,924.9 925.7,926.8 925.3,928.8 925,930.8 924.6,932.7 924.1,934.7 923.7,936.7 923.3,938.6 922.9,940.6 922.5,942.6 922,944.5 921.6,946.5 921.1,948.4 920.7,950.4 920.2,952.3 919.8,954.3 919.3,956.2 918.8,958.2 918.4,960.1 917.9,962.1 917.4,964 916.9,965.9 916.3,967.9 915.8,969.8 915.2,971.7 914.6,973.6 914.1,975.6 913.5,977.5 912.9,979.4 912.3,981.3 911.7,983.2 911.1,985.1 910.5,987 909.8,988.9 909.2,990.9 908.6,992.8 908,994.7 907.4,996.6 906.8,998.6 906.2,1000.5 905.6,1002.4 905,1004.3 904.3,1006.2 903.7,1008.1 903,1010 902.3,1011.9 901.6,1013.7 900.8,1015.6 900,1017.3 899.1,1019.1 898.2,1020.9 897.3,1022.7 896.3,1024.5 895.3,1026.3 894.3,1028.1 893.2,1029.9 892.1,1031.6 890.9,1033.3 889.7,1034.9 888.5,1036.5 887.2,1038 885.9,1039.4 884.6,1040.8 883.2,1042.1 881.7,1043.4 880.2,1044.6 878.5,1045.8 876.8,1046.9 875.1,1048 873.4,1049.1 871.6,1050.2 869.9,1051.2 868.1,1052.2 866.4,1053.2 864.6,1054.2 862.9,1055.1 861.1,1056 859.2,1056.9 857.4,1057.8 855.6,1058.6 853.8,1059.4 851.9,1060 850.1,1060.7 848.3,1061.7 846.4,1061.9 844.5,1062.7 842.7,1063.6 840.8,1063.7 838.9,1065.7 837,1065.9 835.1,1066.9 833.2,1068.7 831.2,1067.9 829.3,1068 827.4,1068.1 825.4,1068.8 823.5,1069.9 821.5,1069.3 819.6,1071.8 817.6,1072.9 815.6,1073.3 813.7,1072.6 811.7,1071.7 809.8,1072.8 807.8,1073.4 805.8,1074.5 803.9,1074.3 801.9,1074.8 800,1077.1 798,1075.3 796.1,1077 794.1,1077.1 792.2,1075.5 790.2,1077.6 788.3,1077.4 786.3,1077.7 784.4,1077.3 782.4,1077.9 780.5,1080.1 778.5,1079.8 776.6,1080.9 774.6,1080.2 772.6,1081.4 770.7,1081.6 768.7,1080.8 766.8,1080.9 764.8,1083 762.8,1083.1 760.9,1082.5 758.9,1083.6 756.9,1084.8 754.9,1086.3 753,1084.4 751,1086 749,1087.4 747,1085.6 745.1,1086.9 743.1,1083.7 741.1,1087.7 739.1,1086.8 737.1,1085.6 735.1,1088.4 733.1,1089.2 731.2,1089.8 729.2,1089.9 727.2,1088.9 725.2,1088.4 723.2,1088.8 721.2,1089.3 719.2,1089.9 717.2,1089.4 715.2,1090 713.2,1090.9 711.2,1090.6 709.2,1092.6 707.3,1092.9 705.3,1090.3 703.3,1091.2 701.3,1090.7 699.3,1090.9 697.3,1092.5 695.3,1091.3 693.3,1091.5 691.3,1092.4 689.3,1093.5 687.3,1092.6 685.3,1092.7 683.3,1093.9 681.3,1093.7 679.3,1094.1 677.3,1095 675.3,1093.7 673.3,1094.7 671.3,1093.7 669.3,1095 667.3,1094.6 665.3,1092.9 663.3,1094.9 661.3,1092.5 659.3,1094.9 657.3,1094.4 655.3,1093.8 653.3,1093.9 651.3,1094.7 649.2,1094.9 647.2,1094.4 645.2,1095.6 643.2,1093.9 641.2,1095.3 639.2,1095.3 637.2,1093.5 635.2,1095.2 633.2,1093.6 631.2,1092.8 629.2,1094.9 627.2,1095.7 625.2,1097 623.2,1095.7 621.2,1097.3 619.2,1097.2 617.2,1096.9 615.2,1097.2 613.2,1096.3 611.2,1095.6 609.2,1096.5 607.2,1096.6 605.2,1095.8 603.2,1095.5 601.2,1094.7 599.2,1097 597.2,1097 595.2,1095.5 593.2,1096.7 591.2,1097.3 589.2,1096.7 587.2,1097.7 585.1,1097.9 583.1,1096.1 581.1,1096.9 579.1,1097.4 577.1,1097.6 575.1,1097.9 573.1,1094.9 571.1,1096.5 569.1,1097.1 567.1,1097.8 565.1,1098.4 563.1,1096.3 561.1,1096.8 559.1,1096.1 557.1,1097.6 555.1,1095.6 553.1,1098.1 551.1,1098.1 549.1,1097.9 547.1,1095.5 545.1,1096.6 543,1097.7 541,1095.6 539,1096.8 537,1097 535,1098.1 533,1097.6 531,1097.6 529,1096.9 527,1097.3 527,1093.8 529,1093.3 531,1093 533,1093.6 535,1093.2 537,1094.1 539,1093.9 541,1092.4 543,1094.3 545,1095.6 547,1094.6 549,1094.7 551,1094.5 553,1093.6 555,1092.7 557,1094.6 559,1094.8 561,1094.4 563,1094.4 565,1094.5 567.1,1094.3 569.1,1094.7 571.1,1094.3 573.1,1094.3 575.1,1093 577.1,1093.1 579.1,1094.2 581.1,1093.4 583.1,1091.6 585.1,1093.9 587.1,1092 589.1,1095.8 591.1,1094.8 593.1,1094.7 595.1,1093.5 597.1,1093 599.1,1093.9 601.1,1094.2 603.1,1093.6 605.1,1094.5 607.1,1094.8 609.1,1094.6 611.1,1093 613.1,1092 615.1,1093.9 617.1,1093.4 619.1,1094.3 621.1,1095.2 623.1,1095 625.1,1093.6 627.1,1094.3 629.1,1094.6 631.1,1093.2 633.1,1093.4 635.1,1094 637.1,1093.3 639.1,1093 641.1,1092.6 643.1,1092.9 645.1,1092 647.1,1092.9 649.1,1092.3 651.2,1094.3 653.2,1094.5 655.2,1092.6 657.2,1094.6 659.2,1093.4 661.2,1095 663.2,1094.1 665.2,1093.4 667.2,1093.9 669.2,1092.7 671.2,1093.4 673.2,1093.4 675.2,1092.8 677.2,1093.4 679.2,1092.4 681.2,1093.9 683.2,1092.3 685.2,1093.7 687.2,1093.3 689.2,1093.3 691.2,1092.3 693.2,1095.5 695.2,1092.8 697.2,1093.2 699.2,1092.5 701.2,1094.5 703.2,1093 705.2,1094 707.2,1092.1 709.2,1092.8 711.2,1092.1 713.2,1093.1 715.2,1092 717.2,1091.4 719.2,1092.4 721.2,1090.8 723.2,1090.8 725.2,1092.1 727.2,1089.7 729.2,1091.8 731.2,1090.6 733.2,1090 735.2,1090.9 737.2,1091.1 739.2,1089.9 741.2,1090.1 743.2,1090.8 745.2,1090.6 747.2,1089.8 749.2,1089.2 751.2,1089.1 753.2,1089.3 755.2,1089.9 757.2,1089.3 759.2,1088.6 761.2,1089.5 763.2,1088.1 765.2,1088.1 767.2,1088.2 769.2,1090.2 771.2,1086.8 773.2,1088.9 775.2,1088.8 777.2,1088.2 779.2,1089.8 781.2,1088.6 783.2,1088.2 785.2,1086.8 787.2,1088 789.2,1087.2 791.2,1087.3 793.2,1087.3 795.2,1086.5 797.2,1087.5 799.2,1088.4 801.2,1087.9 803.2,1087.2 805.2,1085.4 807.2,1087.9 809.2,1087.8 811.2,1086.7 813.2,1086.4 815.2,1087.3 817.2,1085.9 819.2,1087 821.3,1085.2 823.3,1085.1 825.3,1085.5 827.3,1084 829.2,1084.9 831.2,1085.1 833.2,1083.5 835.2,1085.3 837.2,1084 839.1,1084.7 841.1,1084.2 843,1083.4 845,1083 846.9,1081.7 848.9,1082.2 850.8,1081.7 852.8,1082.7 854.7,1081.1 856.6,1078 858.5,1079 860.4,1078.2 862.3,1077.3 864.2,1077.6 866.1,1077 867.9,1074.8 869.8,1074 871.6,1073.5 873.4,1072 875.2,1072.4 877,1071.5 878.7,1070.1 880.4,1068.9 882.1,1068.7 883.8,1068.1 885.4,1066.5 887,1064.2 888.6,1064.3 890.1,1062.6 891.7,1061.7 893.1,1059.5 894.5,1058.1 895.9,1056.7 897.2,1055.2 898.5,1053.7 899.8,1052.1 901,1050.5 902.2,1048.9 903.4,1047.3 904.5,1045.6 905.7,1043.9 906.8,1042.3 908,1040.6 909.1,1039 910.2,1037.3 911.3,1035.6 912.4,1033.9 913.4,1032.2 914.5,1030.5 915.5,1028.8 916.6,1027.1 917.6,1025.3 918.6,1023.6 919.5,1021.8 920.4,1020 921.3,1018.3 922.2,1016.5 923,1014.7 923.9,1012.9 924.7,1011 925.5,1009.2 926.3,1007.4 927.1,1005.5 927.9,1003.6 928.6,1001.8 929.3,999.9 930,998 930.7,996.1 931.4,994.2 932,992.3 932.6,990.4 933.1,988.5 933.7,986.6 934.2,984.7 934.7,982.7 935.2,980.8 935.7,978.9 936.1,976.9 936.6,975 937,973 937.5,971 937.9,969.1 938.3,967.1 938.7,965.1 939.2,963.2 939.6,961.2 940.1,959.3 940.5,957.3 941,955.4 941.4,953.4 941.9,951.5 942.3,949.5 942.8,947.6 943.2,945.6 943.6,943.7 944.1,941.7 944.5,939.8 945,937.8 945.4,935.8 945.8,933.9 946.3,931.9 946.7,930 947.1,928 947.6,926.1 948,924.1 948.4,922.2 948.9,920.2 949.3,918.2 949.7,916.3 950.1,914.3 950.5,912.4 950.9,910.4 951.3,908.4 951.7,906.5 952.1,904.5 952.5,902.6 952.9,900.6 953.3,898.6 953.6,896.7 954,894.7 954.4,892.7 954.8,890.8 955.1,888.8 955.5,886.8 955.9,884.9 956.2,882.9 956.6,880.9 957,879 957.3,877 957.7,875 958,873 958.4,871.1 958.8,869.1 959.1,867.1 959.5,865.2 959.8,863.2 960.2,861.2 960.5,859.2 960.8,857.3 961.2,855.3 961.5,853.3 961.9,851.4 962.2,849.4 962.5,847.4 962.9,845.4 963.2,843.5 963.5,841.5 963.9,839.5 964.2,837.5 964.5,835.6 964.9,833.6 965.2,831.6 965.5,829.6 965.9,827.6 966.2,825.7 966.5,823.7 966.8,821.7 967.2,819.7 967.5,817.8 967.8,815.8 968.1,813.8 968.5,811.8 968.8,809.9 969.1,807.9 969.4,805.9 969.7,803.9 970.1,801.9 970.4,800 970.7,798 971,796 971.3,794 971.7,792.1 972,790.1 972.3,788.1 972.6,786.1 972.9,784.2 973.2,782.2 973.6,780.2 973.9,778.2 974.2,776.2 974.5,774.3 974.8,772.3 975.1,770.3 975.4,768.3 975.7,766.4 976.1,764.4 976.4,762.4 976.7,760.4 977,758.4 977.3,756.5 977.5,754.5 977.8,752.5 978.1,750.5 978.4,748.5 978.7,746.5 979,744.6 979.3,742.6 979.6,740.6 979.9,738.6 980.2,736.6 980.5,734.7 980.7,732.7 981,730.7 981.3,728.7 981.6,726.7 981.9,724.7 982.2,722.8 982.5,720.8 982.8,718.8 983,716.8 983.3,714.8 983.6,712.9 983.9,710.9 984.2,708.9 984.5,706.9 984.8,704.9 985.1,702.9 985.4,701 985.7,699 986,697 986.3,695 986.6,693 986.9,691.1 987.2,689.1 987.5,687.1 987.8,685.1 988.1,683.2 988.4,681.2 988.7,679.2 989,677.2 989.4,675.2 989.7,673.3 990,671.3 990.3,669.3 990.7,667.3 991,665.4 991.3,663.4 991.7,661.4 992,659.4 992.3,657.5 992.7,655.5 993,653.5 993.4,651.6 993.8,649.6 994.1,647.6 994.5,645.7 994.9,643.7 995.3,641.7 995.6,639.8 996,637.8 996.4,635.8 996.8,633.9 997.2,631.9 997.6,629.9 998,628 998.4,626 998.8,624 999.2,622.1 999.6,620.1 1000,618.2 1000.4,616.2 1000.8,614.2 1001.2,612.3 1001.7,610.3 1002.1,608.4 1002.5,606.4 1002.9,604.5 1003.4,602.5 1003.8,600.6 1004.2,598.6 1004.7,596.6 1005.1,594.7 1005.5,592.7 1006,590.8 1006.4,588.8 1006.9,586.9 1007.3,584.9 1007.7,583 1008.2,581 1008.6,579.1 1009.1,577.1 1009.5,575.1 1009.9,573.2 1010.4,571.2 1010.8,569.3 1011.2,567.3 1011.7,565.4 1012.1,563.4 1012.5,561.5 1012.9,559.5 1013.4,557.5 1013.8,555.6 1014.2,553.6 1014.6,551.7 1015,549.7 1015.4,547.7 1015.8,545.8 1016.2,543.8 1016.6,541.9 1017,539.9 1017.4,537.9 1017.8,536 1018.2,534 1018.6,532 1018.9,530.1 1019.3,528.1 1019.7,526.1 1020.1,524.2 1020.5,522.2 1020.9,520.2 1021.2,518.3 1021.6,516.3 1022,514.3 1022.4,512.4 1022.7,510.4 1023.1,508.4 1023.5,506.5 1023.9,504.5 1024.2,502.5 1024.6,500.6 1025,498.6 1025.3,496.6 1025.7,494.7 1026.1,492.7 1026.4,490.7 1026.8,488.8 1027.2,486.8 1027.5,484.8 1027.9,482.8 1028.2,480.9 1028.6,478.9 1028.9,476.9 1029.3,475 1029.7,473 1030,471 1030.4,469 1030.7,467.1 1031.1,465.1 1031.4,463.1 1031.7,461.2 1032.1,459.2 1032.4,457.2 1032.8,455.2 1033.1,453.3 1033.4,451.3 1033.8,449.3 1034.1,447.3 1034.5,445.4 1034.8,443.4 1035.1,441.4 1035.4,439.4 1035.8,437.5 1036.1,435.5 1036.4,433.5 1036.7,431.5 1037.1,429.6 1037.4,427.6 1037.7,425.6 1038,423.6 1038.3,421.7 1038.7,419.7 1039,417.7 1039.3,415.7 1039.6,413.7 1039.9,411.8 1040.2,409.8 1040.5,407.8 1040.8,405.8 1041.1,403.9 1041.4,401.9 1041.7,399.9 1042,397.9 1042.3,395.9 1042.6,394 1042.9,392 1043.2,390 1043.5,388 1043.8,386 1044.1,384 1044.4,382.1 1044.6,380.1 1044.9,378.1 1045.2,376.1 1045.5,374.1 1045.8,372.2 1046.1,370.2 1046.3,368.2 1046.6,366.2 1046.9,364.2 1047.2,362.2 1047.5,360.3 1047.7,358.3 1048,356.3 1048.3,354.3 1048.6,352.3 1048.8,350.3 1049.1,348.4 1049.4,346.4 1049.7,344.4 1049.9,342.4 1050.2,340.4 1050.5,338.4 1050.7,336.4 1051,334.5 1051.3,332.5 1051.5,330.5 1051.8,328.5 1052,326.5 1052.3,324.5 1052.6,322.5 1052.8,320.6 1053.1,318.6 1053.4,316.6 1053.6,314.6 1053.9,312.6 1054.1,310.6 1054.4,308.6 1054.6,306.7 1054.9,304.7 1055.2,302.7 1055.4,300.7 1055.7,298.7 1055.9,296.7 1056.1,294.7 1056.4,292.8 1056.6,290.8 1056.8,288.8 1057.1,286.8 1057.3,284.8 1057.5,282.8 1057.8,280.8 1058,278.8 1058.3,276.8 1058.5,274.9 1058.8,272.9 1059,270.9 1059.3,268.9 1059.6,266.9 1059.9,264.9 1060.2,263 1060.4,261 1060.7,259 1061,257 1061.3,255 1061.7,253.1 1062,251.1 1062.3,249.1 1062.6,247.1 1062.9,245.1 1063.3,243.2 1063.6,241.2 1063.9,239.2 1064.3,237.2 1064.6,235.3 1065,233.3 1065.4,231.3 1065.7,229.3 1066.1,227.4 1066.5,225.4 1067,223.5 1067.4,221.5 1067.9,219.6 1068.5,217.7 1069,215.8 1069.6,213.8 1070.3,211.9 1071,210 1071.7,208.2 1072.4,206.3 1073.1,204.4 1073.9,202.6 1074.7,200.8 1075.6,199 1076.4,196.5 1077.4,194.6 1078.3,193.6 1079.3,191.1 1080.4,191.1 1081.4,187.1 1082.6,186.6 1083.8,184.7 1085,182.7 1086.3,184 1087.6,179 1089,180.5 1090.4,176.3 1091.8,176 1093.3,176.4 1094.9,171.1 1096.5,170.7 1098.2,172.6 1100,171.2 1101.8,170.2 1103.7,170.1 1105.6,168.6 1107.6,168.9 1109.6,169.6 1111.6,167.2 1113.7,167.1 1115.7,167.5 1117.7,168 1119.6,165.8 1121.6,166.7 1123.6,166 1125.6,165.6 1127.5,165.5 1129.5,165 1131.5,164 1133.5,164 1135.5,165.3 1137.5,166.2 1139.5,166.9 1141.6,165.1 1143.6,165.2 1145.6,165.6 1147.6,165.3 1149.6,164.1 1151.6,163.8 1153.6,165.5 1155.6,163.6 1157.6,163.5 1159.6,162.4 1161.6,164.2 1163.6,163.5 1165.6,165.3 1167.6,163.5 1169.6,164.6 1171.6,164.8 1173.6,165.5 1175.6,162.9 1177.6,165.4 1179.6,164.1 1181.7,164.1 1183.7,164 1185.7,164 1187.7,164 1189.7,162.2 1191.7,164.6 1193.7,164.1 1195.7,163 1197.7,163.6 1199.7,165.5 1201.7,163.7 1203.7,163.1 1205.7,165 1207.7,162.9 1209.7,163.8 1211.7,163.7 1213.7,164.3 1215.7,165.4 1217.7,165.2 1219.7,164 1221.7,164.5 1223.7,164.5 1225.7,163.9 1227.7,164.1 1229.7,163.4 1231.7,163.4 1233.7,164.1 1235.7,163.1 1237.7,164.4 1239.7,163.9 1241.7,163.2 1243.7,163.5 1245.7,163.7 1247.7,164 1249.7,164.2 1251.7,163.8 1253.7,163 1255.7,164.8 1257.7,164.2 1259.8,163.9 1261.8,165 1263.8,164.8 1265.8,164.3 1267.8,164.4 1269.8,166.4 1271.8,164.8 1273.8,165 1275.8,163.8 1277.8,164.8 1279.8,166.1 1281.8,164.1 1283.8,164.3 1285.8,164.2 1287.8,164 1289.8,165.2 1291.8,164.4 1293.8,164.9 1295.8,164.1 1297.8,167.1 1299.8,165.2 1301.8,164.6 1303.8,165.2 1305.8,163.1 1307.8,163.5 1309.8,163.4 1311.8,164.6 1313.8,164.7 1315.8,165.4 1317.8,164.7 1319.8,164.2 1321.8,164.3 1323.8,164.3 1325.8,163.8 1327.8,164.9 1329.8,164.5 1331.8,164 1333.8,162.7 1335.8,164.3 1337.8,163.1 1339.9,164.8 1341.9,165 1343.9,164.4 1345.9,164.1 1347.9,164.1 1349.9,166.4 1351.9,164.4 1353.9,164.5 1355.9,165.6 1357.9,165 1359.9,165.5 1361.9,163.4 1363.9,163.4 1365.9,167.2 1367.9,164.2 1369.9,163.9 1371.9,164.5 1373.9,165.4 1375.9,163.8 1377.9,165.2 1379.9,164.6 1381.9,165 1383.9,164.3 1385.9,163.9 1387.9,163.8 1389.9,162.7 1391.9,165.8 1393.9,163.3 1395.9,163.9 1397.9,165.4 1399.9,163.5 1401.9,164.5 1403.9,163.9 1405.9,164.8 1407.9,164.2 1409.9,163.6 1411.9,165.2 1413.9,164 1415.9,163.4 1417.9,164.7 1419.9,165.7 1422,163.9 1424,165.1 1426,164.7 1428,165.8 1430,163.5 1432,164.7 1434,162.8 1436,164.1 1438,164.8 1440,165.3 1442,165 1444,164.9 1446,164.4 1448,164.5 1450,165.4 1452,165.9 1454,166.3 1456,166.7 1458,166.8 1460,164.2 1462,165.3" fill="none" stroke="#00008b" stroke-width="5.0" stroke-linejoin="round" stroke-linecap="round" />
</g>
<line x1="994" y1="60.5" x2="994" y2="1190" stroke="#050505" stroke-width="3.5"/>
<line x1="291.5" y1="625.2" x2="1696.5" y2="625.2" stroke="#050505" stroke-width="3.5"/>
<rect x="291.5" y="60.5" width="1405" height="1129.5" fill="none" stroke="#151515" stroke-width="3.8"/>
<line x1="291.5" y1="1190" x2="291.5" y2="1212" stroke="#151515" stroke-width="3.8"/>
<line x1="408.6" y1="1190" x2="408.6" y2="1201" stroke="#151515" stroke-width="3.2"/>
<line x1="525.7" y1="1190" x2="525.7" y2="1212" stroke="#151515" stroke-width="3.8"/>
<line x1="642.8" y1="1190" x2="642.8" y2="1201" stroke="#151515" stroke-width="3.2"/>
<line x1="759.8" y1="1190" x2="759.8" y2="1212" stroke="#151515" stroke-width="3.8"/>
<line x1="876.9" y1="1190" x2="876.9" y2="1201" stroke="#151515" stroke-width="3.2"/>
<line x1="994" y1="1190" x2="994" y2="1212" stroke="#151515" stroke-width="3.8"/>
<line x1="1111.1" y1="1190" x2="1111.1" y2="1201" stroke="#151515" stroke-width="3.2"/>
<line x1="1228.2" y1="1190" x2="1228.2" y2="1212" stroke="#151515" stroke-width="3.8"/>
<line x1="1345.2" y1="1190" x2="1345.2" y2="1201" stroke="#151515" stroke-width="3.2"/>
<line x1="1462.3" y1="1190" x2="1462.3" y2="1212" stroke="#151515" stroke-width="3.8"/>
<line x1="1579.4" y1="1190" x2="1579.4" y2="1201" stroke="#151515" stroke-width="3.2"/>
<line x1="1696.5" y1="1190" x2="1696.5" y2="1212" stroke="#151515" stroke-width="3.8"/>
<line x1="270.5" y1="1190" x2="291.5" y2="1190" stroke="#151515" stroke-width="3.8"/>
<line x1="281" y1="1048.8" x2="291.5" y2="1048.8" stroke="#151515" stroke-width="3.2"/>
<line x1="270.5" y1="907.6" x2="291.5" y2="907.6" stroke="#151515" stroke-width="3.8"/>
<line x1="281" y1="766.4" x2="291.5" y2="766.4" stroke="#151515" stroke-width="3.2"/>
<line x1="270.5" y1="625.2" x2="291.5" y2="625.2" stroke="#151515" stroke-width="3.8"/>
<line x1="281" y1="484.1" x2="291.5" y2="484.1" stroke="#151515" stroke-width="3.2"/>
<line x1="270.5" y1="342.9" x2="291.5" y2="342.9" stroke="#151515" stroke-width="3.8"/>
<line x1="281" y1="201.7" x2="291.5" y2="201.7" stroke="#151515" stroke-width="3.2"/>
<line x1="270.5" y1="60.5" x2="291.5" y2="60.5" stroke="#151515" stroke-width="3.8"/>
<g font-family='"Liberation Serif", serif' font-size="75" fill="#000" stroke="#000" stroke-width="0.6">
<text x="290.5" y="1286.5" text-anchor="middle"><tspan font-size="85" dy="9">−</tspan><tspan dy="-9">1.5</tspan></text>
<text x="524.7" y="1286.5" text-anchor="middle"><tspan font-size="85" dy="9">−</tspan><tspan dy="-9">1.0</tspan></text>
<text x="758.8" y="1286.5" text-anchor="middle"><tspan font-size="85" dy="9">−</tspan><tspan dy="-9">0.5</tspan></text>
<text x="994.5" y="1286.5" text-anchor="middle">0.0</text>
<text x="1228.7" y="1286.5" text-anchor="middle">0.5</text>
<text x="1462.8" y="1286.5" text-anchor="middle">1.0</text>
<text x="1697" y="1286.5" text-anchor="middle">1.5</text>
<text x="256.5" y="80.5" text-anchor="end">1.2</text>
<text x="256.5" y="362.9" text-anchor="end">0.6</text>
<text x="256.5" y="645.2" text-anchor="end">0.0</text>
<text x="256.5" y="927.6" text-anchor="end"><tspan font-size="85" dy="9">−</tspan><tspan dy="-9">0.6</tspan></text>
<text x="256.5" y="1210" text-anchor="end"><tspan font-size="85" dy="9">−</tspan><tspan dy="-9">1.2</tspan></text>
</g>
<text x="987.5" y="1412" text-anchor="middle" font-family='"Liberation Sans", sans-serif' font-size="96.5" fill="#000" stroke="#000" stroke-width="1.2">H (kOe)</text>
<text transform="translate(99.5,744) rotate(-90)" font-family='"Liberation Sans", sans-serif' font-size="96.5" fill="#000" stroke="#000" stroke-width="1.2">M/M<tspan font-size="66" dy="27">S</tspan></text>
<rect x="1211" y="243.5" width="457.5" height="355.5" fill="#fff" stroke="#3c3c3c" stroke-width="2.6"/>
<g font-family='"Liberation Sans", sans-serif' font-size="74.8" fill="#000" stroke="#000" stroke-width="1.1">
<line x1="1209" y1="285" x2="1378" y2="285" stroke="#000000" stroke-width="5.8"/>
<text x="1396.5" y="309.6">0 deg</text>
<line x1="1209" y1="376.6" x2="1378" y2="376.6" stroke="#ff0000" stroke-width="5.8"/>
<text x="1396.5" y="401.2">90 deg</text>
<line x1="1209" y1="468.2" x2="1378" y2="468.2" stroke="#008a00" stroke-width="5.8"/>
<text x="1396.5" y="492.8">180 deg</text>
<line x1="1209" y1="559.8" x2="1378" y2="559.8" stroke="#00008b" stroke-width="5.8"/>
<text x="1396.5" y="584.4">270 deg</text>
</g>
<rect x="435.3" y="86.1" width="436.3" height="352.7" fill="#fff" stroke="#2b2b2b" stroke-width="3"/>
<line x1="441.3" y1="86.1" x2="868.6" y2="86.1" stroke="#bdbdbd" stroke-width="3"/>
<line x1="454" y1="438.8" x2="454" y2="432.3" stroke="#2b2b2b" stroke-width="2.2" opacity="1"/>
<line x1="454" y1="86.1" x2="454" y2="92.6" stroke="#2b2b2b" stroke-width="2.2" opacity="1"/>
<line x1="515.1" y1="438.8" x2="515.1" y2="434.8" stroke="#2b2b2b" stroke-width="2.2" opacity="0.55"/>
<line x1="515.1" y1="86.1" x2="515.1" y2="90.1" stroke="#2b2b2b" stroke-width="2.2" opacity="0.55"/>
<line x1="576.1" y1="438.8" x2="576.1" y2="432.3" stroke="#2b2b2b" stroke-width="2.2" opacity="1"/>
<line x1="576.1" y1="86.1" x2="576.1" y2="92.6" stroke="#2b2b2b" stroke-width="2.2" opacity="1"/>
<line x1="637.2" y1="438.8" x2="637.2" y2="434.8" stroke="#2b2b2b" stroke-width="2.2" opacity="0.55"/>
<line x1="637.2" y1="86.1" x2="637.2" y2="90.1" stroke="#2b2b2b" stroke-width="2.2" opacity="0.55"/>
<line x1="698.2" y1="438.8" x2="698.2" y2="432.3" stroke="#2b2b2b" stroke-width="2.2" opacity="1"/>
<line x1="698.2" y1="86.1" x2="698.2" y2="92.6" stroke="#2b2b2b" stroke-width="2.2" opacity="1"/>
<line x1="759.3" y1="438.8" x2="759.3" y2="434.8" stroke="#2b2b2b" stroke-width="2.2" opacity="0.55"/>
<line x1="759.3" y1="86.1" x2="759.3" y2="90.1" stroke="#2b2b2b" stroke-width="2.2" opacity="0.55"/>
<line x1="820.3" y1="438.8" x2="820.3" y2="432.3" stroke="#2b2b2b" stroke-width="2.2" opacity="1"/>
<line x1="820.3" y1="86.1" x2="820.3" y2="92.6" stroke="#2b2b2b" stroke-width="2.2" opacity="1"/>
<line x1="435.3" y1="438.8" x2="441.8" y2="438.8" stroke="#2b2b2b" stroke-width="2.2" opacity="1"/>
<line x1="871.6" y1="438.8" x2="865.1" y2="438.8" stroke="#2b2b2b" stroke-width="2.2" opacity="1"/>
<line x1="435.3" y1="380" x2="439.3" y2="380" stroke="#2b2b2b" stroke-width="2.2" opacity="0.55"/>
<line x1="871.6" y1="380" x2="867.6" y2="380" stroke="#2b2b2b" stroke-width="2.2" opacity="0.55"/>
<line x1="435.3" y1="321.2" x2="441.8" y2="321.2" stroke="#2b2b2b" stroke-width="2.2" opacity="1"/>
<line x1="871.6" y1="321.2" x2="865.1" y2="321.2" stroke="#2b2b2b" stroke-width="2.2" opacity="1"/>
<line x1="435.3" y1="262.4" x2="439.3" y2="262.4" stroke="#2b2b2b" stroke-width="2.2" opacity="0.55"/>
<line x1="871.6" y1="262.4" x2="867.6" y2="262.4" stroke="#2b2b2b" stroke-width="2.2" opacity="0.55"/>
<line x1="435.3" y1="203.7" x2="441.8" y2="203.7" stroke="#2b2b2b" stroke-width="2.2" opacity="1"/>
<line x1="871.6" y1="203.7" x2="865.1" y2="203.7" stroke="#2b2b2b" stroke-width="2.2" opacity="1"/>
<line x1="435.3" y1="144.9" x2="439.3" y2="144.9" stroke="#2b2b2b" stroke-width="2.2" opacity="0.55"/>
<line x1="871.6" y1="144.9" x2="867.6" y2="144.9" stroke="#2b2b2b" stroke-width="2.2" opacity="0.55"/>
<line x1="435.3" y1="86.1" x2="441.8" y2="86.1" stroke="#2b2b2b" stroke-width="2.2" opacity="1"/>
<line x1="871.6" y1="86.1" x2="865.1" y2="86.1" stroke="#2b2b2b" stroke-width="2.2" opacity="1"/>
<circle cx="454" cy="150.9" r="8.5" fill="#000"/>
<circle cx="474.4" cy="174.1" r="8.5" fill="#000"/>
<circle cx="494.7" cy="218.4" r="8.5" fill="#000"/>
<circle cx="515.1" cy="262.2" r="8.5" fill="#000"/>
<circle cx="535.4" cy="262.2" r="8.5" fill="#000"/>
<circle cx="555.8" cy="380.6" r="8.5" fill="#000"/>
<circle cx="576.1" cy="330.4" r="8.5" fill="#000"/>
<circle cx="596.5" cy="321" r="8.5" fill="#000"/>
<circle cx="616.8" cy="274.7" r="8.5" fill="#000"/>
<circle cx="637.2" cy="189.2" r="8.5" fill="#000"/>
<circle cx="657.5" cy="189.2" r="8.5" fill="#000"/>
<circle cx="677.9" cy="157.1" r="8.5" fill="#000"/>
<circle cx="698.2" cy="153.1" r="8.5" fill="#000"/>
<circle cx="718.6" cy="171.3" r="8.5" fill="#000"/>
<circle cx="738.9" cy="197.7" r="8.5" fill="#000"/>
<circle cx="759.3" cy="239.4" r="8.5" fill="#000"/>
<circle cx="779.6" cy="297.4" r="8.5" fill="#000"/>
<circle cx="800" cy="363" r="8.5" fill="#000"/>
<circle cx="820.3" cy="380" r="8.5" fill="#000"/>
<circle cx="840.7" cy="392" r="8.5" fill="#000"/>
<polyline points="454,134.4 455.9,134.6 457.9,135 459.8,135.8 461.8,136.8 463.7,138.2 465.7,139.9 467.6,141.8 469.5,144.1 471.5,146.6 473.4,149.4 475.4,152.5 477.3,155.8 479.3,159.4 481.2,163.3 483.1,167.3 485.1,171.6 487,176.1 489,180.9 490.9,185.8 492.9,190.8 494.8,196.1 496.7,201.5 498.7,207 500.6,212.7 502.6,218.5 504.5,224.3 506.5,230.3 508.4,236.3 510.3,242.4 512.3,248.5 514.2,254.6 516.2,260.8 518.1,266.9 520.1,273 522,279.1 523.9,285.1 525.9,291 527.8,296.9 529.8,302.6 531.7,308.3 533.7,313.8 535.6,319.2 537.5,324.4 539.5,329.4 541.4,334.3 543.4,339 545.3,343.5 547.3,347.7 549.2,351.8 551.2,355.6 553.1,359.1 555,362.4 557,365.4 558.9,368.2 560.9,370.7 562.8,372.9 564.8,374.8 566.7,376.4 568.6,377.7 570.6,378.8 572.5,379.5 574.5,379.9 576.4,380 578.4,379.8 580.3,379.3 582.2,378.5 584.2,377.4 586.1,375.9 588.1,374.2 590,372.2 592,369.9 593.9,367.4 595.8,364.5 597.8,361.4 599.7,358 601.7,354.4 603.6,350.5 605.6,346.4 607.5,342.1 609.4,337.5 611.4,332.8 613.3,327.9 615.3,322.7 617.2,317.5 619.2,312.1 621.1,306.5 623,300.8 625,295 626.9,289.1 628.9,283.2 630.8,277.1 632.8,271.1 634.7,264.9 636.6,258.8 638.6,252.7 640.5,246.6 642.5,240.5 644.4,234.4 646.4,228.4 648.3,222.5 650.2,216.6 652.2,210.9 654.1,205.3 656.1,199.8 658,194.4 660,189.2 661.9,184.2 663.8,179.3 665.8,174.7 667.7,170.3 669.7,166 671.6,162 673.6,158.3 675.5,154.8 677.4,151.5 679.4,148.5 681.3,145.8 683.3,143.3 685.2,141.2 687.2,139.3 689.1,137.8 691,136.5 693,135.5 694.9,134.8 696.9,134.5 698.8,134.4 700.8,134.7 702.7,135.2 704.6,136.1 706.6,137.2 708.5,138.7 710.5,140.5 712.4,142.5 714.4,144.9 716.3,147.5 718.2,150.4 720.2,153.5 722.1,156.9 724.1,160.6 726,164.5 728,168.7 729.9,173 731.9,177.6 733.8,182.4 735.7,187.3 737.7,192.5 739.6,197.8 741.6,203.2 743.5,208.8 745.5,214.5 747.4,220.3 749.3,226.2 751.3,232.2 753.2,238.2 755.2,244.3 757.1,250.4 759.1,256.6 761,262.7 762.9,268.8 764.9,274.9 766.8,281 768.8,286.9 770.7,292.9 772.7,298.7 774.6,304.4 776.5,310 778.5,315.5 780.4,320.8 782.4,326 784.3,331 786.3,335.8 788.2,340.4 790.1,344.8 792.1,349 794,353 796,356.7 797.9,360.2 799.9,363.4 801.8,366.3 803.7,369 805.7,371.4 807.6,373.5 809.6,375.3 811.5,376.9 813.5,378.1 815.4,379 817.3,379.6 819.3,380 821.2,380 823.2,379.7 825.1,379.1 827.1,378.2 829,376.9 830.9,375.4 832.9,373.6 834.8,371.5 836.8,369.1 838.7,366.5 840.7,363.5" fill="none" stroke="#ff0000" stroke-width="3.8" stroke-linejoin="round" stroke-linecap="round" />
<g font-family='"Liberation Sans", sans-serif' font-size="42" fill="#151515" stroke="#151515" stroke-width="0.5">
<text x="454.5" y="477.4" text-anchor="middle">0</text>
<text x="576.6" y="477.4" text-anchor="middle">90</text>
<text x="698.7" y="477.4" text-anchor="middle">180</text>
<text x="820.8" y="477.4" text-anchor="middle">270</text>
<text x="427.5" y="451.4" text-anchor="end">0.0</text>
<text x="427.5" y="333.8" text-anchor="end">0.4</text>
<text x="427.5" y="216.3" text-anchor="end">0.8</text>
<text x="427.5" y="95.6" text-anchor="end">1.2</text>
</g>
<text x="406.8" y="539" font-family='"Liberation Sans", sans-serif' font-size="54.4" fill="#0c0c0c" stroke="#0c0c0c" stroke-width="0.6">Rotation angle (deg.)</text>
<text transform="translate(343.4,332) rotate(-90)" font-family='"Liberation Sans", sans-serif' font-size="56.5" fill="#0c0c0c" stroke="#0c0c0c" stroke-width="0.6">M<tspan font-size="36" dy="14">r</tspan><tspan dy="-14">/M</tspan><tspan font-size="36" dy="14">s</tspan></text>
<rect x="1217.5" y="659.7" width="437.3" height="366.1" fill="#fff" stroke="#2b2b2b" stroke-width="3"/>
<line x1="1236.5" y1="1025.8" x2="1236.5" y2="1019.3" stroke="#2b2b2b" stroke-width="2.2" opacity="1"/>
<line x1="1236.5" y1="659.7" x2="1236.5" y2="666.2" stroke="#2b2b2b" stroke-width="2.2" opacity="1"/>
<line x1="1297.3" y1="1025.8" x2="1297.3" y2="1021.8" stroke="#2b2b2b" stroke-width="2.2" opacity="0.55"/>
<line x1="1297.3" y1="659.7" x2="1297.3" y2="663.7" stroke="#2b2b2b" stroke-width="2.2" opacity="0.55"/>
<line x1="1358.1" y1="1025.8" x2="1358.1" y2="1019.3" stroke="#2b2b2b" stroke-width="2.2" opacity="1"/>
<line x1="1358.1" y1="659.7" x2="1358.1" y2="666.2" stroke="#2b2b2b" stroke-width="2.2" opacity="1"/>
<line x1="1419" y1="1025.8" x2="1419" y2="1021.8" stroke="#2b2b2b" stroke-width="2.2" opacity="0.55"/>
<line x1="1419" y1="659.7" x2="1419" y2="663.7" stroke="#2b2b2b" stroke-width="2.2" opacity="0.55"/>
<line x1="1479.8" y1="1025.8" x2="1479.8" y2="1019.3" stroke="#2b2b2b" stroke-width="2.2" opacity="1"/>
<line x1="1479.8" y1="659.7" x2="1479.8" y2="666.2" stroke="#2b2b2b" stroke-width="2.2" opacity="1"/>
<line x1="1540.6" y1="1025.8" x2="1540.6" y2="1021.8" stroke="#2b2b2b" stroke-width="2.2" opacity="0.55"/>
<line x1="1540.6" y1="659.7" x2="1540.6" y2="663.7" stroke="#2b2b2b" stroke-width="2.2" opacity="0.55"/>
<line x1="1601.4" y1="1025.8" x2="1601.4" y2="1019.3" stroke="#2b2b2b" stroke-width="2.2" opacity="1"/>
<line x1="1601.4" y1="659.7" x2="1601.4" y2="666.2" stroke="#2b2b2b" stroke-width="2.2" opacity="1"/>
<line x1="1217.5" y1="1025.8" x2="1224" y2="1025.8" stroke="#2b2b2b" stroke-width="2.2" opacity="1"/>
<line x1="1654.8" y1="1025.8" x2="1648.3" y2="1025.8" stroke="#2b2b2b" stroke-width="2.2" opacity="1"/>
<line x1="1217.5" y1="964.8" x2="1221.5" y2="964.8" stroke="#2b2b2b" stroke-width="2.2" opacity="0.55"/>
<line x1="1654.8" y1="964.8" x2="1650.8" y2="964.8" stroke="#2b2b2b" stroke-width="2.2" opacity="0.55"/>
<line x1="1217.5" y1="903.8" x2="1224" y2="903.8" stroke="#2b2b2b" stroke-width="2.2" opacity="1"/>
<line x1="1654.8" y1="903.8" x2="1648.3" y2="903.8" stroke="#2b2b2b" stroke-width="2.2" opacity="1"/>
<line x1="1217.5" y1="842.8" x2="1221.5" y2="842.8" stroke="#2b2b2b" stroke-width="2.2" opacity="0.55"/>
<line x1="1654.8" y1="842.8" x2="1650.8" y2="842.8" stroke="#2b2b2b" stroke-width="2.2" opacity="0.55"/>
<line x1="1217.5" y1="781.7" x2="1224" y2="781.7" stroke="#2b2b2b" stroke-width="2.2" opacity="1"/>
<line x1="1654.8" y1="781.7" x2="1648.3" y2="781.7" stroke="#2b2b2b" stroke-width="2.2" opacity="1"/>
<line x1="1217.5" y1="720.7" x2="1221.5" y2="720.7" stroke="#2b2b2b" stroke-width="2.2" opacity="0.55"/>
<line x1="1654.8" y1="720.7" x2="1650.8" y2="720.7" stroke="#2b2b2b" stroke-width="2.2" opacity="0.55"/>
<line x1="1217.5" y1="659.7" x2="1224" y2="659.7" stroke="#2b2b2b" stroke-width="2.2" opacity="1"/>
<line x1="1654.8" y1="659.7" x2="1648.3" y2="659.7" stroke="#2b2b2b" stroke-width="2.2" opacity="1"/>
<circle cx="1236.5" cy="720.2" r="8.5" fill="#000"/>
<circle cx="1256.8" cy="788.3" r="8.5" fill="#000"/>
<circle cx="1277" cy="822.4" r="8.5" fill="#000"/>
<circle cx="1297.3" cy="828.2" r="8.5" fill="#000"/>
<circle cx="1317.6" cy="849.1" r="8.5" fill="#000"/>
<circle cx="1337.9" cy="928.2" r="8.5" fill="#000"/>
<circle cx="1358.1" cy="862.4" r="8.5" fill="#000"/>
<circle cx="1378.4" cy="858.6" r="8.5" fill="#000"/>
<circle cx="1398.7" cy="839.2" r="8.5" fill="#000"/>
<circle cx="1419" cy="839.8" r="8.5" fill="#000"/>
<circle cx="1439.2" cy="816.1" r="8.5" fill="#000"/>
<circle cx="1459.5" cy="739.9" r="8.5" fill="#000"/>
<circle cx="1479.8" cy="724.9" r="8.5" fill="#000"/>
<circle cx="1500" cy="797" r="8.5" fill="#000"/>
<circle cx="1520.3" cy="832.6" r="8.5" fill="#000"/>
<circle cx="1540.6" cy="855.8" r="8.5" fill="#000"/>
<circle cx="1560.9" cy="862.4" r="8.5" fill="#000"/>
<circle cx="1581.1" cy="941.8" r="8.5" fill="#000"/>
<circle cx="1601.4" cy="964.4" r="8.5" fill="#000"/>
<circle cx="1621.7" cy="966.7" r="8.5" fill="#000"/>
<polyline points="1236.5,746 1238.4,746.1 1240.4,746.5 1242.3,747.1 1244.2,748 1246.2,749.1 1248.1,750.4 1250,752 1252,753.8 1253.9,755.9 1255.9,758.1 1257.8,760.6 1259.7,763.3 1261.7,766.2 1263.6,769.3 1265.5,772.6 1267.5,776 1269.4,779.7 1271.3,783.4 1273.3,787.4 1275.2,791.5 1277.1,795.7 1279.1,800.1 1281,804.5 1283,809.1 1284.9,813.8 1286.8,818.5 1288.8,823.3 1290.7,828.2 1292.6,833 1294.6,838 1296.5,842.9 1298.4,847.9 1300.4,852.8 1302.3,857.7 1304.2,862.6 1306.2,867.5 1308.1,872.3 1310.1,877 1312,881.6 1313.9,886.2 1315.9,890.6 1317.8,895 1319.7,899.2 1321.7,903.2 1323.6,907.2 1325.5,910.9 1327.5,914.5 1329.4,918 1331.3,921.2 1333.3,924.3 1335.2,927.2 1337.1,929.8 1339.1,932.3 1341,934.5 1343,936.5 1344.9,938.3 1346.8,939.8 1348.8,941.1 1350.7,942.2 1352.6,943 1354.6,943.6 1356.5,943.9 1358.4,944 1360.4,943.8 1362.3,943.4 1364.2,942.8 1366.2,941.9 1368.1,940.7 1370.1,939.3 1372,937.7 1373.9,935.9 1375.9,933.8 1377.8,931.5 1379.7,929 1381.7,926.3 1383.6,923.3 1385.5,920.2 1387.5,916.9 1389.4,913.4 1391.3,909.8 1393.3,905.9 1395.2,902 1397.2,897.8 1399.1,893.6 1401,889.2 1403,884.7 1404.9,880.2 1406.8,875.5 1408.8,870.7 1410.7,865.9 1412.6,861.1 1414.6,856.2 1416.5,851.2 1418.4,846.3 1420.4,841.4 1422.3,836.4 1424.2,831.5 1426.2,826.6 1428.1,821.8 1430.1,817 1432,812.3 1433.9,807.7 1435.9,803.1 1437.8,798.7 1439.7,794.4 1441.7,790.2 1443.6,786.1 1445.5,782.2 1447.5,778.5 1449.4,774.9 1451.3,771.5 1453.3,768.3 1455.2,765.2 1457.2,762.4 1459.1,759.8 1461,757.4 1463,755.2 1464.9,753.2 1466.8,751.5 1468.8,750 1470.7,748.7 1472.6,747.7 1474.6,746.9 1476.5,746.4 1478.4,746.1 1480.4,746 1482.3,746.2 1484.3,746.7 1486.2,747.4 1488.1,748.3 1490.1,749.5 1492,750.9 1493.9,752.5 1495.9,754.4 1497.8,756.5 1499.7,758.9 1501.7,761.4 1503.6,764.2 1505.5,767.1 1507.5,770.3 1509.4,773.6 1511.4,777.1 1513.3,780.8 1515.2,784.7 1517.2,788.7 1519.1,792.8 1521,797.1 1523,801.5 1524.9,806 1526.8,810.6 1528.8,815.3 1530.7,820 1532.6,824.8 1534.6,829.7 1536.5,834.6 1538.4,839.5 1540.4,844.5 1542.3,849.4 1544.3,854.4 1546.2,859.3 1548.1,864.2 1550.1,869 1552,873.8 1553.9,878.5 1555.9,883.1 1557.8,887.6 1559.7,892 1561.7,896.3 1563.6,900.5 1565.5,904.5 1567.5,908.4 1569.4,912.1 1571.4,915.6 1573.3,919 1575.2,922.2 1577.2,925.2 1579.1,928 1581,930.6 1583,933 1584.9,935.1 1586.8,937.1 1588.8,938.8 1590.7,940.2 1592.6,941.5 1594.6,942.5 1596.5,943.2 1598.5,943.7 1600.4,944 1602.3,944 1604.3,943.7 1606.2,943.2 1608.1,942.5 1610.1,941.5 1612,940.3 1613.9,938.9 1615.9,937.2 1617.8,935.2 1619.7,933.1 1621.7,930.7" fill="none" stroke="#ff0000" stroke-width="3.8" stroke-linejoin="round" stroke-linecap="round" />
<g font-family='"Liberation Sans", sans-serif' font-size="42" fill="#151515" stroke="#151515" stroke-width="0.5">
<text x="1237" y="1066.2" text-anchor="middle">0</text>
<text x="1358.6" y="1066.2" text-anchor="middle">90</text>
<text x="1480.3" y="1066.2" text-anchor="middle">180</text>
<text x="1601.9" y="1066.2" text-anchor="middle">270</text>
<text x="1209.7" y="1038.4" text-anchor="end">0.0</text>
<text x="1209.7" y="916.4" text-anchor="end">0.4</text>
<text x="1209.7" y="794.3" text-anchor="end">0.8</text>
<text x="1209.7" y="671.7" text-anchor="end">1.2</text>
</g>
<text x="1177" y="1129.8" font-family='"Liberation Sans", sans-serif' font-size="54.4" fill="#0c0c0c" stroke="#0c0c0c" stroke-width="0.6">Rotation angle (deg.)</text>
<text transform="translate(1125.8,1019) rotate(-90)" font-family='"Liberation Sans", sans-serif' font-size="56.5" fill="#0c0c0c" stroke="#0c0c0c" stroke-width="0.6">Normalized H<tspan font-size="38" dy="14" dx="1.5">c</tspan></text>
</g>
<defs><filter id="soft" x="0" y="0" width="100%" height="100%" filterUnits="userSpaceOnUse"><feGaussianBlur stdDeviation="0.8"/></filter></defs>
</svg>
</body>
</html>
